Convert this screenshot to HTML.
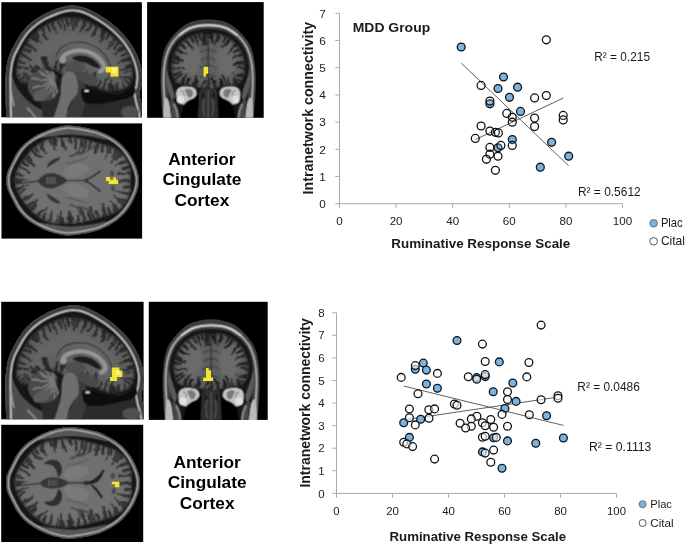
<!DOCTYPE html>
<html><head><meta charset="utf-8"><title>Figure</title>
<style>html,body{margin:0;padding:0;background:#fff;}svg{display:block}</style></head>
<body><svg width="685" height="545" viewBox="0 0 685 545">
<rect width="685" height="545" fill="#fff"/>
<defs>
<filter id="b05" x="-5%" y="-5%" width="110%" height="110%"><feGaussianBlur stdDeviation="0.55"/></filter>
<filter id="b07" x="-5%" y="-5%" width="110%" height="110%"><feConvolveMatrix order="3" kernelMatrix="1 3 1 3 9 3 1 3 1" divisor="25" edgeMode="duplicate" preserveAlpha="true"/></filter>
<filter id="b1" x="-10%" y="-10%" width="120%" height="120%"><feGaussianBlur stdDeviation="1"/></filter>
<filter id="b2" x="-20%" y="-20%" width="140%" height="140%"><feGaussianBlur stdDeviation="2"/></filter>
<filter id="b3" x="-30%" y="-30%" width="160%" height="160%"><feGaussianBlur stdDeviation="3"/></filter>
<filter id="wob" x="-10%" y="-10%" width="120%" height="120%"><feTurbulence type="fractalNoise" baseFrequency="0.09" numOctaves="2" seed="7" result="n"/><feDisplacementMap in="SourceGraphic" in2="n" scale="7" xChannelSelector="R" yChannelSelector="G"/></filter>
</defs>
<g transform="">
<clipPath id="s1box"><rect x="1.3" y="2.2" width="140.6" height="115.1"/></clipPath>
<clipPath id="s1head"><path d="M6.5 140.0C-5.0 134.7 6.3 124.0 6.2 118.0C6.1 112.0 5.9 108.7 5.8 104.0C5.7 99.3 5.6 94.5 5.6 90.0C5.6 85.5 5.4 81.2 5.6 77.0C5.8 72.8 6.3 68.2 6.9 64.5C7.5 60.8 8.4 57.9 9.4 55.0C10.4 52.1 11.6 50.0 13.2 47.0C14.8 44.0 16.8 40.1 18.8 37.0C20.8 33.9 22.6 31.2 25.1 28.5C27.6 25.8 30.8 23.0 33.9 20.6C37.0 18.2 40.1 16.3 43.9 14.3C47.7 12.3 53.0 10.1 56.5 8.8C60.0 7.5 62.4 6.8 65.0 6.3C67.6 5.8 69.5 5.6 72.0 5.6C74.5 5.6 77.3 5.8 80.0 6.4C82.7 7.0 85.0 7.7 88.0 9.0C91.0 10.3 94.0 11.8 97.7 14.0C101.4 16.2 106.4 19.3 110.2 22.2C114.0 25.1 117.3 28.1 120.6 31.4C123.9 34.7 127.2 38.4 129.8 42.2C132.5 46.0 134.7 50.0 136.5 54.0C138.3 58.0 139.8 62.3 140.7 66.0C141.6 69.7 142.1 72.7 142.2 76.0C142.3 79.3 141.8 83.1 141.4 86.0C141.0 88.9 139.5 90.6 139.5 93.4C139.5 96.2 140.5 99.5 141.2 102.6C141.9 105.6 143.2 108.0 143.8 111.7C144.4 115.4 144.5 120.3 145.0 125.0C145.5 129.7 158.7 135.8 147.0 140.0C135.3 144.2 98.4 150.0 75.0 150.0C51.6 150.0 18.0 145.3 6.5 140.0Z"/></clipPath>
<rect x="1.3" y="2.2" width="140.6" height="115.1" fill="#000"/>
<g clip-path="url(#s1box)"><g filter="url(#b07)">
<path d="M6.5 140.0C-5.0 134.7 6.3 124.0 6.2 118.0C6.1 112.0 5.9 108.7 5.8 104.0C5.7 99.3 5.6 94.5 5.6 90.0C5.6 85.5 5.4 81.2 5.6 77.0C5.8 72.8 6.3 68.2 6.9 64.5C7.5 60.8 8.4 57.9 9.4 55.0C10.4 52.1 11.6 50.0 13.2 47.0C14.8 44.0 16.8 40.1 18.8 37.0C20.8 33.9 22.6 31.2 25.1 28.5C27.6 25.8 30.8 23.0 33.9 20.6C37.0 18.2 40.1 16.3 43.9 14.3C47.7 12.3 53.0 10.1 56.5 8.8C60.0 7.5 62.4 6.8 65.0 6.3C67.6 5.8 69.5 5.6 72.0 5.6C74.5 5.6 77.3 5.8 80.0 6.4C82.7 7.0 85.0 7.7 88.0 9.0C91.0 10.3 94.0 11.8 97.7 14.0C101.4 16.2 106.4 19.3 110.2 22.2C114.0 25.1 117.3 28.1 120.6 31.4C123.9 34.7 127.2 38.4 129.8 42.2C132.5 46.0 134.7 50.0 136.5 54.0C138.3 58.0 139.8 62.3 140.7 66.0C141.6 69.7 142.1 72.7 142.2 76.0C142.3 79.3 141.8 83.1 141.4 86.0C141.0 88.9 139.5 90.6 139.5 93.4C139.5 96.2 140.5 99.5 141.2 102.6C141.9 105.6 143.2 108.0 143.8 111.7C144.4 115.4 144.5 120.3 145.0 125.0C145.5 129.7 158.7 135.8 147.0 140.0C135.3 144.2 98.4 150.0 75.0 150.0C51.6 150.0 18.0 145.3 6.5 140.0Z" fill="#161616"/>
<g clip-path="url(#s1head)">
<path d="M6.0 70.0C8.1 71.2 10.4 73.7 12.5 77.0C14.6 80.3 16.0 86.1 18.5 90.0C21.0 93.9 24.2 97.5 27.5 100.5C30.8 103.5 34.7 106.0 38.0 108.0C41.3 110.0 44.3 109.7 47.5 112.5C50.7 115.3 64.9 122.9 57.0 125.0C49.1 127.1 9.5 134.2 0.0 125.0C-9.5 115.8 -1.0 79.2 0.0 70.0C1.0 60.8 3.9 68.8 6.0 70.0Z" fill="#4e4e4e" stroke="none" stroke-width="1" />
<path d="M78.0 98.0C82.2 93.2 88.8 96.8 95.0 96.0C101.2 95.2 108.8 93.7 115.0 93.0C121.2 92.3 126.8 90.8 132.0 92.0C137.2 93.2 143.7 94.5 146.0 100.0C148.3 105.5 158.7 120.8 146.0 125.0C133.3 129.2 81.3 129.5 70.0 125.0C58.7 120.5 73.8 102.8 78.0 98.0Z" fill="#2c2c2c" stroke="none" stroke-width="1" />
<path d="M6.5 140.0C-5.0 134.7 6.3 124.0 6.2 118.0C6.1 112.0 5.9 108.7 5.8 104.0C5.7 99.3 5.6 94.5 5.6 90.0C5.6 85.5 5.4 81.2 5.6 77.0C5.8 72.8 6.3 68.2 6.9 64.5C7.5 60.8 8.4 57.9 9.4 55.0C10.4 52.1 11.6 50.0 13.2 47.0C14.8 44.0 16.8 40.1 18.8 37.0C20.8 33.9 22.6 31.2 25.1 28.5C27.6 25.8 30.8 23.0 33.9 20.6C37.0 18.2 40.1 16.3 43.9 14.3C47.7 12.3 53.0 10.1 56.5 8.8C60.0 7.5 62.4 6.8 65.0 6.3C67.6 5.8 69.5 5.6 72.0 5.6C74.5 5.6 77.3 5.8 80.0 6.4C82.7 7.0 85.0 7.7 88.0 9.0C91.0 10.3 94.0 11.8 97.7 14.0C101.4 16.2 106.4 19.3 110.2 22.2C114.0 25.1 117.3 28.1 120.6 31.4C123.9 34.7 127.2 38.4 129.8 42.2C132.5 46.0 134.7 50.0 136.5 54.0C138.3 58.0 139.8 62.3 140.7 66.0C141.6 69.7 142.1 72.7 142.2 76.0C142.3 79.3 141.8 83.1 141.4 86.0C141.0 88.9 139.5 90.6 139.5 93.4C139.5 96.2 140.5 99.5 141.2 102.6C141.9 105.6 143.2 108.0 143.8 111.7C144.4 115.4 144.5 120.3 145.0 125.0C145.5 129.7 158.7 135.8 147.0 140.0C135.3 144.2 98.4 150.0 75.0 150.0C51.6 150.0 18.0 145.3 6.5 140.0Z" fill="none" stroke="#c4c4c4" stroke-width="11.4"/>
<path d="M6.5 140.0C-5.0 134.7 6.3 124.0 6.2 118.0C6.1 112.0 5.9 108.7 5.8 104.0C5.7 99.3 5.6 94.5 5.6 90.0C5.6 85.5 5.4 81.2 5.6 77.0C5.8 72.8 6.3 68.2 6.9 64.5C7.5 60.8 8.4 57.9 9.4 55.0C10.4 52.1 11.6 50.0 13.2 47.0C14.8 44.0 16.8 40.1 18.8 37.0C20.8 33.9 22.6 31.2 25.1 28.5C27.6 25.8 30.8 23.0 33.9 20.6C37.0 18.2 40.1 16.3 43.9 14.3C47.7 12.3 53.0 10.1 56.5 8.8C60.0 7.5 62.4 6.8 65.0 6.3C67.6 5.8 69.5 5.6 72.0 5.6C74.5 5.6 77.3 5.8 80.0 6.4C82.7 7.0 85.0 7.7 88.0 9.0C91.0 10.3 94.0 11.8 97.7 14.0C101.4 16.2 106.4 19.3 110.2 22.2C114.0 25.1 117.3 28.1 120.6 31.4C123.9 34.7 127.2 38.4 129.8 42.2C132.5 46.0 134.7 50.0 136.5 54.0C138.3 58.0 139.8 62.3 140.7 66.0C141.6 69.7 142.1 72.7 142.2 76.0C142.3 79.3 141.8 83.1 141.4 86.0C141.0 88.9 139.5 90.6 139.5 93.4C139.5 96.2 140.5 99.5 141.2 102.6C141.9 105.6 143.2 108.0 143.8 111.7C144.4 115.4 144.5 120.3 145.0 125.0C145.5 129.7 158.7 135.8 147.0 140.0C135.3 144.2 98.4 150.0 75.0 150.0C51.6 150.0 18.0 145.3 6.5 140.0Z" fill="none" stroke="#3b3b3b" stroke-width="8"/>
</g>
<clipPath id="s1cer"><path d="M16.2 68.0C16.4 64.8 17.5 61.1 18.5 58.0C19.5 54.9 20.9 52.3 22.4 49.5C23.8 46.7 25.5 43.8 27.2 41.3C28.9 38.8 30.5 36.7 32.6 34.6C34.7 32.5 37.1 30.5 39.8 28.6C42.5 26.7 45.4 24.8 48.6 23.2C51.8 21.6 56.1 20.0 59.0 19.0C61.9 18.0 63.7 17.6 66.0 17.3C68.3 17.0 69.8 16.9 73.0 17.3C76.2 17.8 81.3 18.7 85.1 20.0C88.9 21.3 91.6 23.0 95.6 25.2C99.6 27.4 104.8 30.2 108.9 33.0C113.0 35.8 116.8 39.0 120.0 42.2C123.2 45.4 126.2 48.7 128.2 52.2C130.2 55.7 131.4 59.5 132.2 63.0C133.0 66.5 133.4 70.0 133.2 73.2C133.0 76.4 132.2 79.9 131.0 82.4C129.8 84.9 128.2 86.8 126.0 88.2C123.8 89.6 120.5 90.1 117.5 90.6C114.5 91.1 111.3 91.7 108.3 91.4C105.2 91.1 101.9 90.1 99.2 89.0C96.5 87.9 94.5 86.2 92.0 85.0C89.5 83.8 86.7 83.2 84.0 82.0C81.3 80.8 79.0 79.0 76.0 78.0C73.0 77.0 69.0 77.0 66.0 76.0C63.0 75.0 60.7 73.2 58.0 72.0C55.3 70.8 52.3 69.3 50.0 69.0C47.7 68.7 46.2 68.8 44.0 70.0C41.8 71.2 39.3 74.0 37.0 76.0C34.7 78.0 32.5 80.8 30.0 82.0C27.5 83.2 24.2 83.8 22.0 83.0C19.8 82.2 18.0 79.5 17.0 77.0C16.0 74.5 15.9 71.2 16.2 68.0Z"/></clipPath>
<path d="M16.2 68.0C16.4 64.8 17.5 61.1 18.5 58.0C19.5 54.9 20.9 52.3 22.4 49.5C23.8 46.7 25.5 43.8 27.2 41.3C28.9 38.8 30.5 36.7 32.6 34.6C34.7 32.5 37.1 30.5 39.8 28.6C42.5 26.7 45.4 24.8 48.6 23.2C51.8 21.6 56.1 20.0 59.0 19.0C61.9 18.0 63.7 17.6 66.0 17.3C68.3 17.0 69.8 16.9 73.0 17.3C76.2 17.8 81.3 18.7 85.1 20.0C88.9 21.3 91.6 23.0 95.6 25.2C99.6 27.4 104.8 30.2 108.9 33.0C113.0 35.8 116.8 39.0 120.0 42.2C123.2 45.4 126.2 48.7 128.2 52.2C130.2 55.7 131.4 59.5 132.2 63.0C133.0 66.5 133.4 70.0 133.2 73.2C133.0 76.4 132.2 79.9 131.0 82.4C129.8 84.9 128.2 86.8 126.0 88.2C123.8 89.6 120.5 90.1 117.5 90.6C114.5 91.1 111.3 91.7 108.3 91.4C105.2 91.1 101.9 90.1 99.2 89.0C96.5 87.9 94.5 86.2 92.0 85.0C89.5 83.8 86.7 83.2 84.0 82.0C81.3 80.8 79.0 79.0 76.0 78.0C73.0 77.0 69.0 77.0 66.0 76.0C63.0 75.0 60.7 73.2 58.0 72.0C55.3 70.8 52.3 69.3 50.0 69.0C47.7 68.7 46.2 68.8 44.0 70.0C41.8 71.2 39.3 74.0 37.0 76.0C34.7 78.0 32.5 80.8 30.0 82.0C27.5 83.2 24.2 83.8 22.0 83.0C19.8 82.2 18.0 79.5 17.0 77.0C16.0 74.5 15.9 71.2 16.2 68.0Z" fill="#5e5e5e"/>
<g clip-path="url(#s1cer)">
<path d="M30.0 62.0C29.3 58.3 33.0 52.0 36.0 48.0C39.0 44.0 43.7 40.7 48.0 38.0C52.3 35.3 57.0 33.0 62.0 32.0C67.0 31.0 72.7 31.0 78.0 32.0C83.3 33.0 89.0 35.3 94.0 38.0C99.0 40.7 104.3 44.3 108.0 48.0C111.7 51.7 114.3 55.7 116.0 60.0C117.7 64.3 119.3 70.7 118.0 74.0C116.7 77.3 111.7 80.3 108.0 80.0C104.3 79.7 100.7 76.7 96.0 72.0C91.3 67.3 85.7 55.7 80.0 52.0C74.3 48.3 67.0 48.7 62.0 50.0C57.0 51.3 53.7 56.7 50.0 60.0C46.3 63.3 43.3 69.7 40.0 70.0C36.7 70.3 30.7 65.7 30.0 62.0Z" fill="#656565" stroke="none" stroke-width="1" filter="url(#b2)"/>
<path d="M16.2 68.0C16.4 64.8 17.5 61.1 18.5 58.0C19.5 54.9 20.9 52.3 22.4 49.5C23.8 46.7 25.5 43.8 27.2 41.3C28.9 38.8 30.5 36.7 32.6 34.6C34.7 32.5 37.1 30.5 39.8 28.6C42.5 26.7 45.4 24.8 48.6 23.2C51.8 21.6 56.1 20.0 59.0 19.0C61.9 18.0 63.7 17.6 66.0 17.3C68.3 17.0 69.8 16.9 73.0 17.3C76.2 17.8 81.3 18.7 85.1 20.0C88.9 21.3 91.6 23.0 95.6 25.2C99.6 27.4 104.8 30.2 108.9 33.0C113.0 35.8 116.8 39.0 120.0 42.2C123.2 45.4 126.2 48.7 128.2 52.2C130.2 55.7 131.4 59.5 132.2 63.0C133.0 66.5 133.4 70.0 133.2 73.2C133.0 76.4 132.2 79.9 131.0 82.4C129.8 84.9 128.2 86.8 126.0 88.2C123.8 89.6 120.5 90.1 117.5 90.6C114.5 91.1 111.3 91.7 108.3 91.4C105.2 91.1 101.9 90.1 99.2 89.0C96.5 87.9 94.5 86.2 92.0 85.0C89.5 83.8 86.7 83.2 84.0 82.0C81.3 80.8 79.0 79.0 76.0 78.0C73.0 77.0 69.0 77.0 66.0 76.0C63.0 75.0 60.7 73.2 58.0 72.0C55.3 70.8 52.3 69.3 50.0 69.0C47.7 68.7 46.2 68.8 44.0 70.0C41.8 71.2 39.3 74.0 37.0 76.0C34.7 78.0 32.5 80.8 30.0 82.0C27.5 83.2 24.2 83.8 22.0 83.0C19.8 82.2 18.0 79.5 17.0 77.0C16.0 74.5 15.9 71.2 16.2 68.0Z" fill="none" stroke="#505050" stroke-width="6"/>
<g filter="url(#wob)">
<path d="M16.2 68.0C16.4 64.8 17.5 61.1 18.5 58.0C19.5 54.9 20.9 52.3 22.4 49.5C23.8 46.7 25.5 43.8 27.2 41.3C28.9 38.8 30.5 36.7 32.6 34.6C34.7 32.5 37.1 30.5 39.8 28.6C42.5 26.7 45.4 24.8 48.6 23.2C51.8 21.6 56.1 20.0 59.0 19.0C61.9 18.0 63.7 17.6 66.0 17.3C68.3 17.0 69.8 16.9 73.0 17.3C76.2 17.8 81.3 18.7 85.1 20.0C88.9 21.3 91.6 23.0 95.6 25.2C99.6 27.4 104.8 30.2 108.9 33.0C113.0 35.8 116.8 39.0 120.0 42.2C123.2 45.4 126.2 48.7 128.2 52.2C130.2 55.7 131.4 59.5 132.2 63.0C133.0 66.5 133.4 70.0 133.2 73.2C133.0 76.4 132.2 79.9 131.0 82.4C129.8 84.9 128.2 86.8 126.0 88.2C123.8 89.6 120.5 90.1 117.5 90.6C114.5 91.1 111.3 91.7 108.3 91.4C105.2 91.1 101.9 90.1 99.2 89.0C96.5 87.9 94.5 86.2 92.0 85.0C89.5 83.8 86.7 83.2 84.0 82.0C81.3 80.8 79.0 79.0 76.0 78.0C73.0 77.0 69.0 77.0 66.0 76.0C63.0 75.0 60.7 73.2 58.0 72.0C55.3 70.8 52.3 69.3 50.0 69.0C47.7 68.7 46.2 68.8 44.0 70.0C41.8 71.2 39.3 74.0 37.0 76.0C34.7 78.0 32.5 80.8 30.0 82.0C27.5 83.2 24.2 83.8 22.0 83.0C19.8 82.2 18.0 79.5 17.0 77.0C16.0 74.5 15.9 71.2 16.2 68.0Z" fill="none" stroke="#262626" stroke-width="17" stroke-dasharray="2.5 4.1 2.2 5.9 2.7 3.0" stroke-dashoffset="1"/>
<path d="M16.2 68.0C16.4 64.8 17.5 61.1 18.5 58.0C19.5 54.9 20.9 52.3 22.4 49.5C23.8 46.7 25.5 43.8 27.2 41.3C28.9 38.8 30.5 36.7 32.6 34.6C34.7 32.5 37.1 30.5 39.8 28.6C42.5 26.7 45.4 24.8 48.6 23.2C51.8 21.6 56.1 20.0 59.0 19.0C61.9 18.0 63.7 17.6 66.0 17.3C68.3 17.0 69.8 16.9 73.0 17.3C76.2 17.8 81.3 18.7 85.1 20.0C88.9 21.3 91.6 23.0 95.6 25.2C99.6 27.4 104.8 30.2 108.9 33.0C113.0 35.8 116.8 39.0 120.0 42.2C123.2 45.4 126.2 48.7 128.2 52.2C130.2 55.7 131.4 59.5 132.2 63.0C133.0 66.5 133.4 70.0 133.2 73.2C133.0 76.4 132.2 79.9 131.0 82.4C129.8 84.9 128.2 86.8 126.0 88.2C123.8 89.6 120.5 90.1 117.5 90.6C114.5 91.1 111.3 91.7 108.3 91.4C105.2 91.1 101.9 90.1 99.2 89.0C96.5 87.9 94.5 86.2 92.0 85.0C89.5 83.8 86.7 83.2 84.0 82.0C81.3 80.8 79.0 79.0 76.0 78.0C73.0 77.0 69.0 77.0 66.0 76.0C63.0 75.0 60.7 73.2 58.0 72.0C55.3 70.8 52.3 69.3 50.0 69.0C47.7 68.7 46.2 68.8 44.0 70.0C41.8 71.2 39.3 74.0 37.0 76.0C34.7 78.0 32.5 80.8 30.0 82.0C27.5 83.2 24.2 83.8 22.0 83.0C19.8 82.2 18.0 79.5 17.0 77.0C16.0 74.5 15.9 71.2 16.2 68.0Z" fill="none" stroke="#2a2a2a" stroke-width="26" stroke-dasharray="2.4 11.0 2.5 7.6"/>
</g>
<path d="M16.2 68.0C16.4 64.8 17.5 61.1 18.5 58.0C19.5 54.9 20.9 52.3 22.4 49.5C23.8 46.7 25.5 43.8 27.2 41.3C28.9 38.8 30.5 36.7 32.6 34.6C34.7 32.5 37.1 30.5 39.8 28.6C42.5 26.7 45.4 24.8 48.6 23.2C51.8 21.6 56.1 20.0 59.0 19.0C61.9 18.0 63.7 17.6 66.0 17.3C68.3 17.0 69.8 16.9 73.0 17.3C76.2 17.8 81.3 18.7 85.1 20.0C88.9 21.3 91.6 23.0 95.6 25.2C99.6 27.4 104.8 30.2 108.9 33.0C113.0 35.8 116.8 39.0 120.0 42.2C123.2 45.4 126.2 48.7 128.2 52.2C130.2 55.7 131.4 59.5 132.2 63.0C133.0 66.5 133.4 70.0 133.2 73.2C133.0 76.4 132.2 79.9 131.0 82.4C129.8 84.9 128.2 86.8 126.0 88.2C123.8 89.6 120.5 90.1 117.5 90.6C114.5 91.1 111.3 91.7 108.3 91.4C105.2 91.1 101.9 90.1 99.2 89.0C96.5 87.9 94.5 86.2 92.0 85.0C89.5 83.8 86.7 83.2 84.0 82.0C81.3 80.8 79.0 79.0 76.0 78.0C73.0 77.0 69.0 77.0 66.0 76.0C63.0 75.0 60.7 73.2 58.0 72.0C55.3 70.8 52.3 69.3 50.0 69.0C47.7 68.7 46.2 68.8 44.0 70.0C41.8 71.2 39.3 74.0 37.0 76.0C34.7 78.0 32.5 80.8 30.0 82.0C27.5 83.2 24.2 83.8 22.0 83.0C19.8 82.2 18.0 79.5 17.0 77.0C16.0 74.5 15.9 71.2 16.2 68.0Z" fill="none" stroke="#262626" stroke-width="1.6"/>
<path d="M56.0 56.0C57.0 54.5 59.0 49.2 62.0 47.0C65.0 44.8 69.7 43.1 74.0 42.5C78.3 41.9 83.7 42.2 88.0 43.5C92.3 44.8 96.7 47.2 100.0 50.0C103.3 52.8 106.2 56.7 108.0 60.0C109.8 63.3 111.0 66.7 111.0 70.0C111.0 73.3 108.5 78.3 108.0 80.0" fill="none" stroke="#363636" stroke-width="1.2" />
</g>
<ellipse cx="75" cy="67" rx="10" ry="6.5" fill="#505050"/>
<path d="M66.0 70.0C67.3 68.7 74.0 71.3 78.0 72.0C82.0 72.7 86.7 72.7 90.0 74.0C93.3 75.3 97.7 78.0 98.0 80.0C98.3 82.0 95.0 85.7 92.0 86.0C89.0 86.3 83.7 83.0 80.0 82.0C76.3 81.0 72.3 82.0 70.0 80.0C67.7 78.0 64.7 71.3 66.0 70.0Z" fill="#4a4a4a" stroke="none" stroke-width="1" />
<path d="M72.0 58.0C72.3 57.1 77.0 55.6 80.0 55.5C83.0 55.4 87.2 56.3 90.0 57.5C92.8 58.7 95.3 60.8 97.0 62.5C98.7 64.2 100.5 67.2 100.0 68.0C99.5 68.8 96.3 67.8 94.0 67.0C91.7 66.2 88.7 64.0 86.0 63.0C83.3 62.0 80.3 61.8 78.0 61.0C75.7 60.2 71.7 58.9 72.0 58.0Z" fill="#1d1d1d" stroke="none" stroke-width="1" />
<path d="M62.3 61.5C62.4 60.7 61.9 58.0 63.0 56.5C64.1 55.0 66.1 53.6 69.0 52.6C71.9 51.6 76.6 50.4 80.5 50.6C84.4 50.8 89.1 52.0 92.5 53.6C95.9 55.2 99.0 58.1 101.0 60.5C103.0 62.9 104.4 66.2 104.2 68.0C104.0 69.8 100.7 70.9 100.0 71.5" fill="none" stroke="#969696" stroke-width="4.0" stroke-linecap="round"/>
<circle cx="62.8" cy="60" r="3.3" fill="#969696"/>
<path d="M15.5 62.0C15.3 64.3 13.5 71.6 14.2 76.0C14.9 80.4 17.1 84.8 19.5 88.5C21.9 92.2 25.2 95.7 28.5 98.5C31.8 101.3 35.4 103.6 39.0 105.5C42.6 107.4 46.8 107.9 50.0 110.0C53.2 112.1 56.7 116.7 58.0 118.0" fill="none" stroke="#171717" stroke-width="3.4" />
<path d="M40.0 100.0C41.3 98.3 46.7 98.7 50.0 98.0C53.3 97.3 58.3 92.3 60.0 96.0C61.7 99.7 62.7 116.0 60.0 120.0C57.3 124.0 47.0 122.0 44.0 120.0C41.0 118.0 42.7 111.3 42.0 108.0C41.3 104.7 38.7 101.7 40.0 100.0Z" fill="#2b2b2b" stroke="none" stroke-width="1" />
<clipPath id="s1cb"><ellipse cx="44.0" cy="85.4" rx="16.2" ry="15.8"/></clipPath>
<ellipse cx="44.0" cy="85.4" rx="16.2" ry="15.8" fill="#484848"/>
<g clip-path="url(#s1cb)" stroke="#7a7a7a" stroke-width="2.1" fill="none" stroke-linecap="round" filter="url(#wob)">
<path d="M54.5 82L32.8 78.2"/>
<path d="M54.5 82L33.2 87.7"/>
<path d="M54.5 82L38.1 93.5"/>
<path d="M54.5 82L45.5 96.4"/>
<path d="M54.5 82L52.6 95.9"/>
<path d="M54.5 82L57.9 91.4"/>
<path d="M54.5 82L37.5 71.4"/>
<path d="M54.5 82L44.0 68.6"/>
<path d="M54.5 82L50.2 68.7"/>
</g>
<ellipse cx="41.5" cy="95" rx="9" ry="5.4" fill="#5c5c5c" transform="rotate(-24 41.5 95)"/>
<path d="M57.0 76.0C57.7 75.7 59.7 79.7 60.0 82.0C60.3 84.3 59.7 89.7 59.0 90.0C58.3 90.3 56.3 86.3 56.0 84.0C55.7 81.7 56.3 76.3 57.0 76.0Z" fill="#1c1c1c" stroke="none" stroke-width="1" />
<path d="M74.0 80.0C76.0 77.3 82.0 81.3 84.0 84.0C86.0 86.7 86.7 90.3 86.0 96.0C85.3 101.7 83.3 114.3 80.0 118.0C76.7 121.7 67.3 121.0 66.0 118.0C64.7 115.0 70.7 106.3 72.0 100.0C73.3 93.7 72.0 82.7 74.0 80.0Z" fill="#3a3a3a" stroke="none" stroke-width="1" />
<path d="M66.0 72.0C67.8 71.1 71.2 71.5 73.0 72.5C74.8 73.5 75.7 75.8 76.5 78.0C77.3 80.2 77.9 83.3 78.0 86.0C78.1 88.7 78.0 91.7 77.0 94.0C76.0 96.3 73.5 97.7 72.0 100.0C70.5 102.3 69.2 104.7 68.0 108.0C66.8 111.3 66.8 118.0 64.5 120.0C62.2 122.0 55.2 122.0 54.0 120.0C52.8 118.0 56.0 111.7 57.0 108.0C58.0 104.3 59.3 101.3 60.0 98.0C60.7 94.7 60.7 91.3 61.0 88.0C61.3 84.7 61.2 80.7 62.0 78.0C62.8 75.3 64.2 72.9 66.0 72.0Z" fill="#6e6e6e" stroke="none" stroke-width="1" />
<path d="M82.0 89.0C83.7 87.9 88.3 89.8 92.0 90.5C95.7 91.2 100.0 92.5 104.0 93.0C108.0 93.5 112.3 94.0 116.0 93.8C119.7 93.5 123.1 92.7 126.0 91.5C128.9 90.3 131.9 86.4 133.5 86.5C135.1 86.6 136.1 90.2 135.5 92.0C134.9 93.8 132.9 96.1 130.0 97.5C127.1 98.9 123.0 99.4 118.0 100.5C113.0 101.6 105.3 103.6 100.0 104.0C94.7 104.4 89.0 104.2 86.0 103.0C83.0 101.8 82.7 99.3 82.0 97.0C81.3 94.7 80.3 90.1 82.0 89.0Z" fill="#0a0a0a" stroke="none" stroke-width="1" />
<rect x="84.3" y="89.8" width="4.6" height="2.2" rx="1" fill="#d0d0d0"/>
<ellipse cx="130" cy="112" rx="9" ry="6" fill="#505050"/>
<path d="M11.0 90.0C11.2 91.3 11.5 95.3 12.0 98.0C12.5 100.7 13.7 104.7 14.0 106.0" fill="none" stroke="#9a9a9a" stroke-width="1.6" />
<path d="M27.0 108.0C27.8 108.8 30.5 111.3 32.0 113.0C33.5 114.7 35.3 117.2 36.0 118.0" fill="none" stroke="#8a8a8a" stroke-width="1.8" />
</g></g></g>
<path d="M105.8 66.8H118.4V76.5H110.4V72.4H105.8Z" fill="#f3e62e"/><rect x="112.3" y="68.2" width="4" height="5" fill="#fbf39a" filter="url(#b05)"/>
<g transform="">
<clipPath id="c1box"><rect x="147.1" y="2.1" width="116.6" height="115.7"/></clipPath>
<clipPath id="c1head"><path d="M163.9 140.0C156.3 134.3 163.0 122.5 162.6 116.0C162.2 109.5 161.6 105.7 161.3 101.0C161.0 96.3 160.7 92.3 160.6 88.0C160.5 83.7 160.4 79.2 160.6 75.0C160.8 70.8 161.0 66.8 161.6 62.8C162.2 58.8 162.8 54.5 163.9 51.0C165.0 47.5 166.2 44.8 168.4 41.5C170.6 38.2 173.7 34.4 176.8 31.4C179.9 28.4 183.6 25.5 187.0 23.7C190.4 21.9 193.5 21.1 197.0 20.3C200.5 19.6 204.5 19.2 208.2 19.2C211.9 19.2 215.9 19.6 219.4 20.3C222.9 21.1 226.0 21.9 229.4 23.7C232.8 25.5 236.5 28.4 239.6 31.4C242.7 34.4 245.8 38.2 248.0 41.5C250.1 44.8 251.4 47.5 252.5 51.0C253.6 54.5 254.2 58.8 254.8 62.8C255.3 66.8 255.6 70.8 255.8 75.0C256.0 79.2 255.9 83.7 255.8 88.0C255.7 92.3 255.4 96.3 255.1 101.0C254.8 105.7 254.2 109.5 253.8 116.0C253.4 122.5 260.1 134.3 252.5 140.0C244.9 145.7 223.0 150.0 208.2 150.0C193.4 150.0 171.5 145.7 163.9 140.0Z"/></clipPath>
<rect x="147.1" y="2.1" width="116.6" height="115.7" fill="#000"/>
<g clip-path="url(#c1box)"><g filter="url(#b07)">
<path d="M163.9 140.0C156.3 134.3 163.0 122.5 162.6 116.0C162.2 109.5 161.6 105.7 161.3 101.0C161.0 96.3 160.7 92.3 160.6 88.0C160.5 83.7 160.4 79.2 160.6 75.0C160.8 70.8 161.0 66.8 161.6 62.8C162.2 58.8 162.8 54.5 163.9 51.0C165.0 47.5 166.2 44.8 168.4 41.5C170.6 38.2 173.7 34.4 176.8 31.4C179.9 28.4 183.6 25.5 187.0 23.7C190.4 21.9 193.5 21.1 197.0 20.3C200.5 19.6 204.5 19.2 208.2 19.2C211.9 19.2 215.9 19.6 219.4 20.3C222.9 21.1 226.0 21.9 229.4 23.7C232.8 25.5 236.5 28.4 239.6 31.4C242.7 34.4 245.8 38.2 248.0 41.5C250.1 44.8 251.4 47.5 252.5 51.0C253.6 54.5 254.2 58.8 254.8 62.8C255.3 66.8 255.6 70.8 255.8 75.0C256.0 79.2 255.9 83.7 255.8 88.0C255.7 92.3 255.4 96.3 255.1 101.0C254.8 105.7 254.2 109.5 253.8 116.0C253.4 122.5 260.1 134.3 252.5 140.0C244.9 145.7 223.0 150.0 208.2 150.0C193.4 150.0 171.5 145.7 163.9 140.0Z" fill="#3d3d3d"/>
<path d="M168.5 140.0C161.9 133.3 168.5 117.5 168.5 110.0C168.5 102.5 168.5 100.0 168.3 95.0C168.2 90.0 167.7 84.8 167.6 80.0C167.5 75.2 167.3 70.2 167.6 66.0C167.9 61.8 168.5 58.3 169.5 55.0C170.5 51.7 171.6 48.9 173.5 46.0C175.4 43.1 178.2 39.8 181.0 37.5C183.8 35.2 187.0 33.3 190.0 32.0C193.0 30.7 196.0 30.1 199.0 29.6C202.0 29.1 205.1 28.8 208.2 28.8C211.3 28.8 214.4 29.1 217.4 29.6C220.4 30.1 223.4 30.7 226.4 32.0C229.4 33.3 232.6 35.2 235.4 37.5C238.1 39.8 241.0 43.1 242.9 46.0C244.8 48.9 245.9 51.7 246.9 55.0C247.9 58.3 248.5 61.8 248.8 66.0C249.1 70.2 248.9 75.2 248.8 80.0C248.7 84.8 248.2 90.0 248.1 95.0C247.9 100.0 247.9 102.5 247.9 110.0C247.9 117.5 254.5 133.3 247.9 140.0C241.3 146.7 221.4 150.0 208.2 150.0C195.0 150.0 175.1 146.7 168.5 140.0Z" fill="#141414" stroke="none" stroke-width="1" />
<path d="M165.0 125.0C164.9 122.5 164.7 115.0 164.6 110.0C164.5 105.0 164.4 99.7 164.2 95.0C164.0 90.3 163.6 86.7 163.6 82.0C163.6 77.3 163.8 71.2 164.3 66.7C164.8 62.2 165.4 58.7 166.6 55.0C167.8 51.3 169.1 47.8 171.2 44.5C173.3 41.2 176.0 37.9 179.0 35.2C182.0 32.6 185.8 30.2 189.0 28.6C192.2 27.1 194.8 26.5 198.0 25.9C201.2 25.3 204.8 25.2 208.2 25.2C211.6 25.2 215.2 25.3 218.4 25.9C221.6 26.5 224.2 27.1 227.4 28.6C230.6 30.2 234.4 32.6 237.4 35.2C240.4 37.9 243.1 41.2 245.2 44.5C247.3 47.8 248.6 51.3 249.8 55.0C250.9 58.7 251.6 62.2 252.1 66.7C252.6 71.2 252.8 77.3 252.8 82.0C252.8 86.7 252.4 90.3 252.2 95.0C252.0 99.7 251.9 105.0 251.8 110.0C251.7 115.0 251.5 122.5 251.4 125.0" fill="none" stroke="#b4b4b4" stroke-width="1.7" />
<path d="M179.0 35.2C180.7 34.1 185.8 30.2 189.0 28.6C192.2 27.1 194.8 26.5 198.0 25.9C201.2 25.3 204.8 25.2 208.2 25.2C211.6 25.2 215.2 25.3 218.4 25.9C221.6 26.5 224.2 27.1 227.4 28.6C230.6 30.2 235.7 34.1 237.4 35.2" fill="none" stroke="#d2d2d2" stroke-width="1.9" />
<path d="M166.5 70.0C167.0 69.3 168.0 75.0 169.0 78.0C170.0 81.0 171.6 85.0 172.5 88.0C173.4 91.0 174.6 94.0 174.5 96.0C174.4 98.0 173.0 100.7 172.0 100.0C171.0 99.3 169.5 95.0 168.5 92.0C167.5 89.0 166.3 85.7 166.0 82.0C165.7 78.3 166.0 70.7 166.5 70.0Z" fill="#5a5a5a" stroke="none" stroke-width="1" />
<path d="M165.0 98.0C165.7 96.7 167.2 98.3 168.0 100.0C168.8 101.7 169.5 103.8 170.0 108.0C170.5 112.2 172.0 122.2 171.0 125.0C170.0 127.8 165.2 127.8 164.0 125.0C162.8 122.2 163.4 112.5 163.6 108.0C163.8 103.5 164.3 99.3 165.0 98.0Z" fill="#b9b9b9" stroke="none" stroke-width="1" />
<path d="M170.5 100.0C171.1 98.8 173.8 101.3 175.0 103.0C176.2 104.7 177.3 106.3 178.0 110.0C178.7 113.7 180.0 122.5 179.0 125.0C178.0 127.5 173.2 127.5 172.0 125.0C170.8 122.5 171.8 114.2 171.5 110.0C171.2 105.8 169.9 101.2 170.5 100.0Z" fill="#4a4a4a" stroke="none" stroke-width="1" />
<path d="M174.0 104.0C174.5 105.3 176.3 109.0 177.0 112.0C177.7 115.0 177.8 120.3 178.0 122.0" fill="none" stroke="#9a9a9a" stroke-width="1.3" />
<path d="M249.9 70.0C249.4 69.3 248.4 75.0 247.4 78.0C246.4 81.0 244.8 85.0 243.9 88.0C243.0 91.0 241.8 94.0 241.9 96.0C242.0 98.0 243.4 100.7 244.4 100.0C245.4 99.3 246.9 95.0 247.9 92.0C248.9 89.0 250.1 85.7 250.4 82.0C250.7 78.3 250.4 70.7 249.9 70.0Z" fill="#5a5a5a" stroke="none" stroke-width="1" />
<path d="M251.4 98.0C250.7 96.7 249.2 98.3 248.4 100.0C247.6 101.7 246.9 103.8 246.4 108.0C245.9 112.2 244.4 122.2 245.4 125.0C246.4 127.8 251.2 127.8 252.4 125.0C253.6 122.2 253.0 112.5 252.8 108.0C252.6 103.5 252.1 99.3 251.4 98.0Z" fill="#b9b9b9" stroke="none" stroke-width="1" />
<path d="M245.9 100.0C245.3 98.8 242.6 101.3 241.4 103.0C240.1 104.7 239.1 106.3 238.4 110.0C237.7 113.7 236.4 122.5 237.4 125.0C238.4 127.5 243.1 127.5 244.4 125.0C245.6 122.5 244.6 114.2 244.9 110.0C245.1 105.8 246.5 101.2 245.9 100.0Z" fill="#4a4a4a" stroke="none" stroke-width="1" />
<path d="M242.4 104.0C241.9 105.3 240.1 109.0 239.4 112.0C238.7 115.0 238.6 120.3 238.4 122.0" fill="none" stroke="#9a9a9a" stroke-width="1.3" />
<rect x="180.2" y="88" width="56" height="40" fill="#171717"/>
<clipPath id="c1br"><path d="M207.2 90.5C205.9 90.1 203.5 88.9 201.2 88.2C198.9 87.5 196.0 86.8 193.2 86.3C190.4 85.8 186.9 85.5 184.2 85.0C181.5 84.5 179.0 84.2 177.2 83.0C175.4 81.8 174.1 80.2 173.2 78.0C172.3 75.8 171.8 73.0 171.6 70.0C171.4 67.0 171.5 63.2 172.2 60.0C172.9 56.8 174.0 53.5 175.6 50.5C177.2 47.5 179.4 44.4 181.9 42.0C184.4 39.6 187.6 37.5 190.7 36.0C193.8 34.5 198.0 33.5 200.7 33.2C203.4 33.0 205.6 34.3 207.0 34.5C208.4 34.7 207.9 34.7 209.4 34.5C210.8 34.3 213.0 33.0 215.7 33.2C218.4 33.5 222.6 34.5 225.7 36.0C228.8 37.5 232.0 39.6 234.5 42.0C237.0 44.4 239.2 47.5 240.8 50.5C242.4 53.5 243.5 56.8 244.2 60.0C244.9 63.2 245.0 67.0 244.8 70.0C244.6 73.0 244.1 75.8 243.2 78.0C242.3 80.2 241.0 81.8 239.2 83.0C237.4 84.2 234.9 84.5 232.2 85.0C229.5 85.5 226.0 85.8 223.2 86.3C220.4 86.8 217.5 87.5 215.2 88.2C212.9 88.9 210.5 90.1 209.2 90.5C207.9 90.9 208.5 90.9 207.2 90.5Z"/></clipPath>
<path d="M207.2 90.5C205.9 90.1 203.5 88.9 201.2 88.2C198.9 87.5 196.0 86.8 193.2 86.3C190.4 85.8 186.9 85.5 184.2 85.0C181.5 84.5 179.0 84.2 177.2 83.0C175.4 81.8 174.1 80.2 173.2 78.0C172.3 75.8 171.8 73.0 171.6 70.0C171.4 67.0 171.5 63.2 172.2 60.0C172.9 56.8 174.0 53.5 175.6 50.5C177.2 47.5 179.4 44.4 181.9 42.0C184.4 39.6 187.6 37.5 190.7 36.0C193.8 34.5 198.0 33.5 200.7 33.2C203.4 33.0 205.6 34.3 207.0 34.5C208.4 34.7 207.9 34.7 209.4 34.5C210.8 34.3 213.0 33.0 215.7 33.2C218.4 33.5 222.6 34.5 225.7 36.0C228.8 37.5 232.0 39.6 234.5 42.0C237.0 44.4 239.2 47.5 240.8 50.5C242.4 53.5 243.5 56.8 244.2 60.0C244.9 63.2 245.0 67.0 244.8 70.0C244.6 73.0 244.1 75.8 243.2 78.0C242.3 80.2 241.0 81.8 239.2 83.0C237.4 84.2 234.9 84.5 232.2 85.0C229.5 85.5 226.0 85.8 223.2 86.3C220.4 86.8 217.5 87.5 215.2 88.2C212.9 88.9 210.5 90.1 209.2 90.5C207.9 90.9 208.5 90.9 207.2 90.5Z" fill="#5e5e5e"/>
<g clip-path="url(#c1br)">
<ellipse cx="226.2" cy="60" rx="11" ry="17" fill="#6a6a6a" filter="url(#b2)"/>
<ellipse cx="190.2" cy="60" rx="11" ry="17" fill="#6a6a6a" filter="url(#b2)"/>
<path d="M207.2 90.5C205.9 90.1 203.5 88.9 201.2 88.2C198.9 87.5 196.0 86.8 193.2 86.3C190.4 85.8 186.9 85.5 184.2 85.0C181.5 84.5 179.0 84.2 177.2 83.0C175.4 81.8 174.1 80.2 173.2 78.0C172.3 75.8 171.8 73.0 171.6 70.0C171.4 67.0 171.5 63.2 172.2 60.0C172.9 56.8 174.0 53.5 175.6 50.5C177.2 47.5 179.4 44.4 181.9 42.0C184.4 39.6 187.6 37.5 190.7 36.0C193.8 34.5 198.0 33.5 200.7 33.2C203.4 33.0 205.6 34.3 207.0 34.5C208.4 34.7 207.9 34.7 209.4 34.5C210.8 34.3 213.0 33.0 215.7 33.2C218.4 33.5 222.6 34.5 225.7 36.0C228.8 37.5 232.0 39.6 234.5 42.0C237.0 44.4 239.2 47.5 240.8 50.5C242.4 53.5 243.5 56.8 244.2 60.0C244.9 63.2 245.0 67.0 244.8 70.0C244.6 73.0 244.1 75.8 243.2 78.0C242.3 80.2 241.0 81.8 239.2 83.0C237.4 84.2 234.9 84.5 232.2 85.0C229.5 85.5 226.0 85.8 223.2 86.3C220.4 86.8 217.5 87.5 215.2 88.2C212.9 88.9 210.5 90.1 209.2 90.5C207.9 90.9 208.5 90.9 207.2 90.5Z" fill="none" stroke="#525252" stroke-width="6"/>
<g filter="url(#wob)">
<path d="M207.2 90.5C205.9 90.1 203.5 88.9 201.2 88.2C198.9 87.5 196.0 86.8 193.2 86.3C190.4 85.8 186.9 85.5 184.2 85.0C181.5 84.5 179.0 84.2 177.2 83.0C175.4 81.8 174.1 80.2 173.2 78.0C172.3 75.8 171.8 73.0 171.6 70.0C171.4 67.0 171.5 63.2 172.2 60.0C172.9 56.8 174.0 53.5 175.6 50.5C177.2 47.5 179.4 44.4 181.9 42.0C184.4 39.6 187.6 37.5 190.7 36.0C193.8 34.5 198.0 33.5 200.7 33.2C203.4 33.0 205.6 34.3 207.0 34.5C208.4 34.7 207.9 34.7 209.4 34.5C210.8 34.3 213.0 33.0 215.7 33.2C218.4 33.5 222.6 34.5 225.7 36.0C228.8 37.5 232.0 39.6 234.5 42.0C237.0 44.4 239.2 47.5 240.8 50.5C242.4 53.5 243.5 56.8 244.2 60.0C244.9 63.2 245.0 67.0 244.8 70.0C244.6 73.0 244.1 75.8 243.2 78.0C242.3 80.2 241.0 81.8 239.2 83.0C237.4 84.2 234.9 84.5 232.2 85.0C229.5 85.5 226.0 85.8 223.2 86.3C220.4 86.8 217.5 87.5 215.2 88.2C212.9 88.9 210.5 90.1 209.2 90.5C207.9 90.9 208.5 90.9 207.2 90.5Z" fill="none" stroke="#1e1e1e" stroke-width="16" stroke-dasharray="2.5 4.1 2.2 5.9 2.7 3.0" stroke-dashoffset="2"/>
<path d="M207.2 90.5C205.9 90.1 203.5 88.9 201.2 88.2C198.9 87.5 196.0 86.8 193.2 86.3C190.4 85.8 186.9 85.5 184.2 85.0C181.5 84.5 179.0 84.2 177.2 83.0C175.4 81.8 174.1 80.2 173.2 78.0C172.3 75.8 171.8 73.0 171.6 70.0C171.4 67.0 171.5 63.2 172.2 60.0C172.9 56.8 174.0 53.5 175.6 50.5C177.2 47.5 179.4 44.4 181.9 42.0C184.4 39.6 187.6 37.5 190.7 36.0C193.8 34.5 198.0 33.5 200.7 33.2C203.4 33.0 205.6 34.3 207.0 34.5C208.4 34.7 207.9 34.7 209.4 34.5C210.8 34.3 213.0 33.0 215.7 33.2C218.4 33.5 222.6 34.5 225.7 36.0C228.8 37.5 232.0 39.6 234.5 42.0C237.0 44.4 239.2 47.5 240.8 50.5C242.4 53.5 243.5 56.8 244.2 60.0C244.9 63.2 245.0 67.0 244.8 70.0C244.6 73.0 244.1 75.8 243.2 78.0C242.3 80.2 241.0 81.8 239.2 83.0C237.4 84.2 234.9 84.5 232.2 85.0C229.5 85.5 226.0 85.8 223.2 86.3C220.4 86.8 217.5 87.5 215.2 88.2C212.9 88.9 210.5 90.1 209.2 90.5C207.9 90.9 208.5 90.9 207.2 90.5Z" fill="none" stroke="#242424" stroke-width="25" stroke-dasharray="2.4 10.0 2.5 7.6"/>
</g>
<path d="M207.2 90.5C205.9 90.1 203.5 88.9 201.2 88.2C198.9 87.5 196.0 86.8 193.2 86.3C190.4 85.8 186.9 85.5 184.2 85.0C181.5 84.5 179.0 84.2 177.2 83.0C175.4 81.8 174.1 80.2 173.2 78.0C172.3 75.8 171.8 73.0 171.6 70.0C171.4 67.0 171.5 63.2 172.2 60.0C172.9 56.8 174.0 53.5 175.6 50.5C177.2 47.5 179.4 44.4 181.9 42.0C184.4 39.6 187.6 37.5 190.7 36.0C193.8 34.5 198.0 33.5 200.7 33.2C203.4 33.0 205.6 34.3 207.0 34.5C208.4 34.7 207.9 34.7 209.4 34.5C210.8 34.3 213.0 33.0 215.7 33.2C218.4 33.5 222.6 34.5 225.7 36.0C228.8 37.5 232.0 39.6 234.5 42.0C237.0 44.4 239.2 47.5 240.8 50.5C242.4 53.5 243.5 56.8 244.2 60.0C244.9 63.2 245.0 67.0 244.8 70.0C244.6 73.0 244.1 75.8 243.2 78.0C242.3 80.2 241.0 81.8 239.2 83.0C237.4 84.2 234.9 84.5 232.2 85.0C229.5 85.5 226.0 85.8 223.2 86.3C220.4 86.8 217.5 87.5 215.2 88.2C212.9 88.9 210.5 90.1 209.2 90.5C207.9 90.9 208.5 90.9 207.2 90.5Z" fill="none" stroke="#2a2a2a" stroke-width="1.6"/>
<path d="M208.2 30V92" stroke="#303030" stroke-width="1.5"/>
<path d="M208.2 42q3.0 -1 6 2.5" stroke="#3c3c3c" stroke-width="1.1" fill="none"/>
<path d="M208.2 50q4.0 -1 8 2.5" stroke="#3c3c3c" stroke-width="1.1" fill="none"/>
<path d="M208.2 58q3.5 -1 7 2.5" stroke="#3c3c3c" stroke-width="1.1" fill="none"/>
<path d="M208.2 66q4.5 -1 9 2.5" stroke="#3c3c3c" stroke-width="1.1" fill="none"/>
<path d="M208.2 75q4.0 -1 8 2.5" stroke="#3c3c3c" stroke-width="1.1" fill="none"/>
<path d="M208.2 83q3.0 -1 6 2.5" stroke="#3c3c3c" stroke-width="1.1" fill="none"/>
<path d="M208.2 42q-3.0 -1 -6 2.5" stroke="#3c3c3c" stroke-width="1.1" fill="none"/>
<path d="M208.2 50q-4.0 -1 -8 2.5" stroke="#3c3c3c" stroke-width="1.1" fill="none"/>
<path d="M208.2 58q-3.5 -1 -7 2.5" stroke="#3c3c3c" stroke-width="1.1" fill="none"/>
<path d="M208.2 66q-4.5 -1 -9 2.5" stroke="#3c3c3c" stroke-width="1.1" fill="none"/>
<path d="M208.2 75q-4.0 -1 -8 2.5" stroke="#3c3c3c" stroke-width="1.1" fill="none"/>
<path d="M208.2 83q-3.0 -1 -6 2.5" stroke="#3c3c3c" stroke-width="1.1" fill="none"/>
</g>
<path d="M176.2 95.0C176.0 92.8 176.5 90.9 177.5 89.5C178.5 88.1 180.1 87.2 182.0 86.8C183.9 86.3 186.9 86.5 189.0 86.8C191.1 87.1 193.2 87.5 194.5 88.5C195.8 89.5 196.3 91.2 196.6 93.0C196.8 94.8 196.8 97.3 196.0 99.0C195.2 100.7 193.8 102.3 192.0 103.2C190.2 104.1 187.2 104.7 185.0 104.6C182.8 104.5 180.0 104.1 178.5 102.5C177.0 100.9 176.4 97.2 176.2 95.0Z" fill="#c6c6c6" stroke="none" stroke-width="1" />
<ellipse cx="180.5" cy="99.5" rx="3.6" ry="3.8" fill="#e2e2e2"/>
<path d="M185.0 89.5C185.6 88.7 188.7 88.6 190.0 89.0C191.3 89.4 192.7 90.8 193.0 92.0C193.3 93.2 192.8 95.6 192.0 96.5C191.2 97.4 189.4 97.9 188.5 97.5C187.6 97.1 187.1 95.3 186.5 94.0C185.9 92.7 184.4 90.3 185.0 89.5Z" fill="#7a7a7a" stroke="none" stroke-width="1" />
<path d="M181.0 90.0C181.4 90.4 183.0 91.5 183.5 92.5C184.0 93.5 183.9 95.4 184.0 96.0" fill="none" stroke="#8a8a8a" stroke-width="1.4" />
<path d="M184.0 104.5C185.1 102.6 186.9 101.5 188.5 100.5C190.1 99.5 191.8 99.0 193.5 98.2C195.2 97.4 197.9 91.0 199.0 95.5C200.1 100.0 202.9 120.1 200.0 125.0C197.1 129.9 184.5 127.2 181.5 125.0C178.5 122.8 181.6 115.4 182.0 112.0C182.4 108.6 182.9 106.4 184.0 104.5Z" fill="#050505" stroke="none" stroke-width="1" />
<path d="M240.2 95.0C240.4 92.8 239.9 90.9 238.9 89.5C237.9 88.1 236.3 87.2 234.4 86.8C232.5 86.3 229.5 86.5 227.4 86.8C225.3 87.1 223.2 87.5 221.9 88.5C220.6 89.5 220.0 91.2 219.8 93.0C219.5 94.8 219.6 97.3 220.4 99.0C221.2 100.7 222.6 102.3 224.4 103.2C226.2 104.1 229.1 104.7 231.4 104.6C233.6 104.5 236.4 104.1 237.9 102.5C239.4 100.9 240.0 97.2 240.2 95.0Z" fill="#c6c6c6" stroke="none" stroke-width="1" />
<ellipse cx="235.89999999999998" cy="99.5" rx="3.6" ry="3.8" fill="#e2e2e2"/>
<path d="M231.4 89.5C230.8 88.7 227.7 88.6 226.4 89.0C225.1 89.4 223.7 90.8 223.4 92.0C223.1 93.2 223.6 95.6 224.4 96.5C225.1 97.4 227.0 97.9 227.9 97.5C228.8 97.1 229.3 95.3 229.9 94.0C230.5 92.7 232.0 90.3 231.4 89.5Z" fill="#7a7a7a" stroke="none" stroke-width="1" />
<path d="M235.4 90.0C235.0 90.4 233.4 91.5 232.9 92.5C232.4 93.5 232.5 95.4 232.4 96.0" fill="none" stroke="#8a8a8a" stroke-width="1.4" />
<path d="M232.4 104.5C231.3 102.6 229.5 101.5 227.9 100.5C226.3 99.5 224.6 99.0 222.9 98.2C221.1 97.4 218.5 91.0 217.4 95.5C216.3 100.0 213.5 120.1 216.4 125.0C219.3 129.9 231.9 127.2 234.9 125.0C237.9 122.8 234.8 115.4 234.4 112.0C234.0 108.6 233.5 106.4 232.4 104.5Z" fill="#050505" stroke="none" stroke-width="1" />
<path d="M200.2 90.0C201.8 87.4 205.5 88.5 208.2 88.5C210.9 88.5 214.6 87.4 216.2 90.0C217.8 92.6 217.6 98.2 217.7 104.0C217.8 109.8 219.7 121.5 216.7 125.0C213.7 128.5 202.7 128.5 199.7 125.0C196.7 121.5 198.6 109.8 198.7 104.0C198.8 98.2 198.6 92.6 200.2 90.0Z" fill="#2d2d2d" stroke="none" stroke-width="1" />
<path d="M208.2 90V120M204.2 98q-2 8 0 18M212.2 98q2 8 0 18" stroke="#585858" stroke-width="1.2" fill="none"/>
<path d="M201.7 93q3 3 0 6M214.7 93q-3 3 0 6" stroke="#111" stroke-width="1.6" fill="none"/>
</g></g></g>
<path d="M203.6 66.7H208.2V73.8H205.9V76.5H203.4V73.8H203.6Z" fill="#f3e62e"/>
<g transform="">
<clipPath id="a1box"><rect x="1.5" y="123.4" width="140.6" height="115.2"/></clipPath>
<clipPath id="a1head"><path d="M6.4 180.5C6.4 178.7 6.4 176.8 6.7 175.0C7.0 173.2 7.4 171.9 8.4 169.5C9.4 167.1 11.3 163.3 12.8 160.4C14.3 157.5 15.5 154.8 17.4 152.1C19.2 149.4 21.4 146.7 23.9 144.3C26.3 141.9 29.2 139.8 32.1 137.9C35.0 136.0 38.3 134.2 41.3 132.8C44.3 131.4 46.9 130.2 50.0 129.2C53.1 128.2 56.8 127.2 60.0 126.6C63.2 126.0 65.3 125.4 69.0 125.5C72.7 125.6 77.5 126.2 82.0 127.0C86.5 127.8 92.1 129.0 96.0 130.1C99.9 131.2 102.2 132.4 105.2 133.8C108.2 135.2 111.5 137.0 114.3 138.8C117.0 140.6 119.4 142.6 121.7 144.8C124.0 147.0 126.1 149.3 128.1 152.1C130.1 154.8 132.1 158.3 133.6 161.3C135.1 164.3 136.4 167.6 137.2 170.0C138.0 172.4 138.3 174.2 138.6 176.0C138.9 177.8 139.0 179.0 139.0 180.5C139.0 182.0 138.9 183.2 138.6 185.0C138.3 186.8 138.0 188.6 137.2 191.0C136.4 193.4 135.1 196.7 133.6 199.7C132.1 202.7 130.1 206.2 128.1 208.9C126.1 211.7 124.0 214.0 121.7 216.2C119.4 218.4 117.0 220.4 114.3 222.2C111.5 224.0 108.2 225.8 105.2 227.2C102.2 228.6 99.9 229.8 96.0 230.9C92.1 232.0 86.5 233.2 82.0 234.0C77.5 234.8 72.7 235.4 69.0 235.5C65.3 235.6 63.2 235.0 60.0 234.4C56.8 233.8 53.1 232.8 50.0 231.8C46.9 230.8 44.3 229.6 41.3 228.2C38.3 226.8 35.0 225.0 32.1 223.1C29.2 221.2 26.3 219.1 23.9 216.7C21.4 214.3 19.2 211.6 17.4 208.9C15.5 206.2 14.3 203.5 12.8 200.6C11.3 197.7 9.4 193.9 8.4 191.5C7.4 189.1 7.0 187.8 6.7 186.0C6.4 184.2 6.4 182.3 6.4 180.5Z"/></clipPath>
<rect x="1.5" y="123.4" width="140.6" height="115.2" fill="#000"/>
<g clip-path="url(#a1box)"><g filter="url(#b07)">
<path d="M6.4 180.5C6.4 178.7 6.4 176.8 6.7 175.0C7.0 173.2 7.4 171.9 8.4 169.5C9.4 167.1 11.3 163.3 12.8 160.4C14.3 157.5 15.5 154.8 17.4 152.1C19.2 149.4 21.4 146.7 23.9 144.3C26.3 141.9 29.2 139.8 32.1 137.9C35.0 136.0 38.3 134.2 41.3 132.8C44.3 131.4 46.9 130.2 50.0 129.2C53.1 128.2 56.8 127.2 60.0 126.6C63.2 126.0 65.3 125.4 69.0 125.5C72.7 125.6 77.5 126.2 82.0 127.0C86.5 127.8 92.1 129.0 96.0 130.1C99.9 131.2 102.2 132.4 105.2 133.8C108.2 135.2 111.5 137.0 114.3 138.8C117.0 140.6 119.4 142.6 121.7 144.8C124.0 147.0 126.1 149.3 128.1 152.1C130.1 154.8 132.1 158.3 133.6 161.3C135.1 164.3 136.4 167.6 137.2 170.0C138.0 172.4 138.3 174.2 138.6 176.0C138.9 177.8 139.0 179.0 139.0 180.5C139.0 182.0 138.9 183.2 138.6 185.0C138.3 186.8 138.0 188.6 137.2 191.0C136.4 193.4 135.1 196.7 133.6 199.7C132.1 202.7 130.1 206.2 128.1 208.9C126.1 211.7 124.0 214.0 121.7 216.2C119.4 218.4 117.0 220.4 114.3 222.2C111.5 224.0 108.2 225.8 105.2 227.2C102.2 228.6 99.9 229.8 96.0 230.9C92.1 232.0 86.5 233.2 82.0 234.0C77.5 234.8 72.7 235.4 69.0 235.5C65.3 235.6 63.2 235.0 60.0 234.4C56.8 233.8 53.1 232.8 50.0 231.8C46.9 230.8 44.3 229.6 41.3 228.2C38.3 226.8 35.0 225.0 32.1 223.1C29.2 221.2 26.3 219.1 23.9 216.7C21.4 214.3 19.2 211.6 17.4 208.9C15.5 206.2 14.3 203.5 12.8 200.6C11.3 197.7 9.4 193.9 8.4 191.5C7.4 189.1 7.0 187.8 6.7 186.0C6.4 184.2 6.4 182.3 6.4 180.5Z" fill="#151515"/>
<g clip-path="url(#a1head)">
<path d="M30.0 139.0C30.0 138.2 43.5 133.7 50.0 132.0C56.5 130.3 62.7 129.2 69.0 129.0C75.3 128.8 81.5 129.2 88.0 131.0C94.5 132.8 108.0 138.7 108.0 139.5C108.0 140.3 94.5 136.8 88.0 136.0C81.5 135.2 75.3 134.4 69.0 134.5C62.7 134.6 56.5 135.8 50.0 136.5C43.5 137.2 30.0 139.8 30.0 139.0Z" fill="#575757" stroke="none" stroke-width="1" />
<path d="M30.0 222.0C30.0 222.8 43.5 227.3 50.0 229.0C56.5 230.7 62.7 231.8 69.0 232.0C75.3 232.2 81.5 231.8 88.0 230.0C94.5 228.2 108.0 222.3 108.0 221.5C108.0 220.7 94.5 224.2 88.0 225.0C81.5 225.8 75.3 226.6 69.0 226.5C62.7 226.4 56.5 225.2 50.0 224.5C43.5 223.8 30.0 221.2 30.0 222.0Z" fill="#575757" stroke="none" stroke-width="1" />
<path d="M6.4 180.5C6.4 178.7 6.4 176.8 6.7 175.0C7.0 173.2 7.4 171.9 8.4 169.5C9.4 167.1 11.3 163.3 12.8 160.4C14.3 157.5 15.5 154.8 17.4 152.1C19.2 149.4 21.4 146.7 23.9 144.3C26.3 141.9 29.2 139.8 32.1 137.9C35.0 136.0 38.3 134.2 41.3 132.8C44.3 131.4 46.9 130.2 50.0 129.2C53.1 128.2 56.8 127.2 60.0 126.6C63.2 126.0 65.3 125.4 69.0 125.5C72.7 125.6 77.5 126.2 82.0 127.0C86.5 127.8 92.1 129.0 96.0 130.1C99.9 131.2 102.2 132.4 105.2 133.8C108.2 135.2 111.5 137.0 114.3 138.8C117.0 140.6 119.4 142.6 121.7 144.8C124.0 147.0 126.1 149.3 128.1 152.1C130.1 154.8 132.1 158.3 133.6 161.3C135.1 164.3 136.4 167.6 137.2 170.0C138.0 172.4 138.3 174.2 138.6 176.0C138.9 177.8 139.0 179.0 139.0 180.5C139.0 182.0 138.9 183.2 138.6 185.0C138.3 186.8 138.0 188.6 137.2 191.0C136.4 193.4 135.1 196.7 133.6 199.7C132.1 202.7 130.1 206.2 128.1 208.9C126.1 211.7 124.0 214.0 121.7 216.2C119.4 218.4 117.0 220.4 114.3 222.2C111.5 224.0 108.2 225.8 105.2 227.2C102.2 228.6 99.9 229.8 96.0 230.9C92.1 232.0 86.5 233.2 82.0 234.0C77.5 234.8 72.7 235.4 69.0 235.5C65.3 235.6 63.2 235.0 60.0 234.4C56.8 233.8 53.1 232.8 50.0 231.8C46.9 230.8 44.3 229.6 41.3 228.2C38.3 226.8 35.0 225.0 32.1 223.1C29.2 221.2 26.3 219.1 23.9 216.7C21.4 214.3 19.2 211.6 17.4 208.9C15.5 206.2 14.3 203.5 12.8 200.6C11.3 197.7 9.4 193.9 8.4 191.5C7.4 189.1 7.0 187.8 6.7 186.0C6.4 184.2 6.4 182.3 6.4 180.5Z" fill="none" stroke="#b4b4b4" stroke-width="6.4"/>
<path d="M6.4 180.5C6.4 178.7 6.4 176.8 6.7 175.0C7.0 173.2 7.4 171.9 8.4 169.5C9.4 167.1 11.3 163.3 12.8 160.4C14.3 157.5 15.5 154.8 17.4 152.1C19.2 149.4 21.4 146.7 23.9 144.3C26.3 141.9 29.2 139.8 32.1 137.9C35.0 136.0 38.3 134.2 41.3 132.8C44.3 131.4 46.9 130.2 50.0 129.2C53.1 128.2 56.8 127.2 60.0 126.6C63.2 126.0 65.3 125.4 69.0 125.5C72.7 125.6 77.5 126.2 82.0 127.0C86.5 127.8 92.1 129.0 96.0 130.1C99.9 131.2 102.2 132.4 105.2 133.8C108.2 135.2 111.5 137.0 114.3 138.8C117.0 140.6 119.4 142.6 121.7 144.8C124.0 147.0 126.1 149.3 128.1 152.1C130.1 154.8 132.1 158.3 133.6 161.3C135.1 164.3 136.4 167.6 137.2 170.0C138.0 172.4 138.3 174.2 138.6 176.0C138.9 177.8 139.0 179.0 139.0 180.5C139.0 182.0 138.9 183.2 138.6 185.0C138.3 186.8 138.0 188.6 137.2 191.0C136.4 193.4 135.1 196.7 133.6 199.7C132.1 202.7 130.1 206.2 128.1 208.9C126.1 211.7 124.0 214.0 121.7 216.2C119.4 218.4 117.0 220.4 114.3 222.2C111.5 224.0 108.2 225.8 105.2 227.2C102.2 228.6 99.9 229.8 96.0 230.9C92.1 232.0 86.5 233.2 82.0 234.0C77.5 234.8 72.7 235.4 69.0 235.5C65.3 235.6 63.2 235.0 60.0 234.4C56.8 233.8 53.1 232.8 50.0 231.8C46.9 230.8 44.3 229.6 41.3 228.2C38.3 226.8 35.0 225.0 32.1 223.1C29.2 221.2 26.3 219.1 23.9 216.7C21.4 214.3 19.2 211.6 17.4 208.9C15.5 206.2 14.3 203.5 12.8 200.6C11.3 197.7 9.4 193.9 8.4 191.5C7.4 189.1 7.0 187.8 6.7 186.0C6.4 184.2 6.4 182.3 6.4 180.5Z" fill="none" stroke="#414141" stroke-width="3.4"/>
</g>
<clipPath id="a1br"><path d="M14.7 180.5C14.7 178.3 15.0 176.1 15.6 174.0C16.1 171.9 16.9 170.1 18.0 168.0C19.1 165.9 20.4 163.6 22.0 161.3C23.6 159.0 25.5 156.3 27.5 154.0C29.5 151.7 31.6 149.5 33.9 147.5C36.2 145.5 38.6 143.5 41.3 142.0C44.0 140.5 46.9 139.1 50.0 138.3C53.1 137.5 56.8 137.4 60.0 137.2C63.2 137.0 65.3 136.8 69.0 137.0C72.7 137.2 77.5 137.6 82.0 138.5C86.5 139.4 91.4 141.0 96.0 142.3C100.6 143.6 106.0 144.8 109.8 146.2C113.6 147.6 116.3 149.0 118.9 150.8C121.5 152.6 123.7 154.8 125.4 157.2C127.2 159.6 128.5 162.4 129.4 165.0C130.3 167.6 130.5 170.4 130.8 173.0C131.1 175.6 131.0 178.0 131.0 180.5C131.0 183.0 131.1 185.4 130.8 188.0C130.5 190.6 130.3 193.4 129.4 196.0C128.5 198.6 127.2 201.4 125.4 203.8C123.7 206.2 121.5 208.4 118.9 210.2C116.3 212.0 113.6 213.4 109.8 214.8C106.0 216.2 100.6 217.4 96.0 218.7C91.4 220.0 86.5 221.6 82.0 222.5C77.5 223.4 72.7 223.8 69.0 224.0C65.3 224.2 63.2 224.0 60.0 223.8C56.8 223.6 53.1 223.5 50.0 222.7C46.9 221.9 44.0 220.5 41.3 219.0C38.6 217.5 36.2 215.5 33.9 213.5C31.6 211.5 29.5 209.3 27.5 207.0C25.5 204.7 23.6 202.0 22.0 199.7C20.4 197.4 19.1 195.1 18.0 193.0C16.9 190.9 16.1 189.1 15.6 187.0C15.0 184.9 14.7 182.7 14.7 180.5Z"/></clipPath>
<path d="M14.7 180.5C14.7 178.3 15.0 176.1 15.6 174.0C16.1 171.9 16.9 170.1 18.0 168.0C19.1 165.9 20.4 163.6 22.0 161.3C23.6 159.0 25.5 156.3 27.5 154.0C29.5 151.7 31.6 149.5 33.9 147.5C36.2 145.5 38.6 143.5 41.3 142.0C44.0 140.5 46.9 139.1 50.0 138.3C53.1 137.5 56.8 137.4 60.0 137.2C63.2 137.0 65.3 136.8 69.0 137.0C72.7 137.2 77.5 137.6 82.0 138.5C86.5 139.4 91.4 141.0 96.0 142.3C100.6 143.6 106.0 144.8 109.8 146.2C113.6 147.6 116.3 149.0 118.9 150.8C121.5 152.6 123.7 154.8 125.4 157.2C127.2 159.6 128.5 162.4 129.4 165.0C130.3 167.6 130.5 170.4 130.8 173.0C131.1 175.6 131.0 178.0 131.0 180.5C131.0 183.0 131.1 185.4 130.8 188.0C130.5 190.6 130.3 193.4 129.4 196.0C128.5 198.6 127.2 201.4 125.4 203.8C123.7 206.2 121.5 208.4 118.9 210.2C116.3 212.0 113.6 213.4 109.8 214.8C106.0 216.2 100.6 217.4 96.0 218.7C91.4 220.0 86.5 221.6 82.0 222.5C77.5 223.4 72.7 223.8 69.0 224.0C65.3 224.2 63.2 224.0 60.0 223.8C56.8 223.6 53.1 223.5 50.0 222.7C46.9 221.9 44.0 220.5 41.3 219.0C38.6 217.5 36.2 215.5 33.9 213.5C31.6 211.5 29.5 209.3 27.5 207.0C25.5 204.7 23.6 202.0 22.0 199.7C20.4 197.4 19.1 195.1 18.0 193.0C16.9 190.9 16.1 189.1 15.6 187.0C15.0 184.9 14.7 182.7 14.7 180.5Z" fill="#707070"/>
<g clip-path="url(#a1br)">
<path d="M14.7 180.5C14.7 178.3 15.0 176.1 15.6 174.0C16.1 171.9 16.9 170.1 18.0 168.0C19.1 165.9 20.4 163.6 22.0 161.3C23.6 159.0 25.5 156.3 27.5 154.0C29.5 151.7 31.6 149.5 33.9 147.5C36.2 145.5 38.6 143.5 41.3 142.0C44.0 140.5 46.9 139.1 50.0 138.3C53.1 137.5 56.8 137.4 60.0 137.2C63.2 137.0 65.3 136.8 69.0 137.0C72.7 137.2 77.5 137.6 82.0 138.5C86.5 139.4 91.4 141.0 96.0 142.3C100.6 143.6 106.0 144.8 109.8 146.2C113.6 147.6 116.3 149.0 118.9 150.8C121.5 152.6 123.7 154.8 125.4 157.2C127.2 159.6 128.5 162.4 129.4 165.0C130.3 167.6 130.5 170.4 130.8 173.0C131.1 175.6 131.0 178.0 131.0 180.5C131.0 183.0 131.1 185.4 130.8 188.0C130.5 190.6 130.3 193.4 129.4 196.0C128.5 198.6 127.2 201.4 125.4 203.8C123.7 206.2 121.5 208.4 118.9 210.2C116.3 212.0 113.6 213.4 109.8 214.8C106.0 216.2 100.6 217.4 96.0 218.7C91.4 220.0 86.5 221.6 82.0 222.5C77.5 223.4 72.7 223.8 69.0 224.0C65.3 224.2 63.2 224.0 60.0 223.8C56.8 223.6 53.1 223.5 50.0 222.7C46.9 221.9 44.0 220.5 41.3 219.0C38.6 217.5 36.2 215.5 33.9 213.5C31.6 211.5 29.5 209.3 27.5 207.0C25.5 204.7 23.6 202.0 22.0 199.7C20.4 197.4 19.1 195.1 18.0 193.0C16.9 190.9 16.1 189.1 15.6 187.0C15.0 184.9 14.7 182.7 14.7 180.5Z" fill="none" stroke="#626262" stroke-width="7"/>
<g filter="url(#wob)">
<path d="M14.7 180.5C14.7 178.3 15.0 176.1 15.6 174.0C16.1 171.9 16.9 170.1 18.0 168.0C19.1 165.9 20.4 163.6 22.0 161.3C23.6 159.0 25.5 156.3 27.5 154.0C29.5 151.7 31.6 149.5 33.9 147.5C36.2 145.5 38.6 143.5 41.3 142.0C44.0 140.5 46.9 139.1 50.0 138.3C53.1 137.5 56.8 137.4 60.0 137.2C63.2 137.0 65.3 136.8 69.0 137.0C72.7 137.2 77.5 137.6 82.0 138.5C86.5 139.4 91.4 141.0 96.0 142.3C100.6 143.6 106.0 144.8 109.8 146.2C113.6 147.6 116.3 149.0 118.9 150.8C121.5 152.6 123.7 154.8 125.4 157.2C127.2 159.6 128.5 162.4 129.4 165.0C130.3 167.6 130.5 170.4 130.8 173.0C131.1 175.6 131.0 178.0 131.0 180.5C131.0 183.0 131.1 185.4 130.8 188.0C130.5 190.6 130.3 193.4 129.4 196.0C128.5 198.6 127.2 201.4 125.4 203.8C123.7 206.2 121.5 208.4 118.9 210.2C116.3 212.0 113.6 213.4 109.8 214.8C106.0 216.2 100.6 217.4 96.0 218.7C91.4 220.0 86.5 221.6 82.0 222.5C77.5 223.4 72.7 223.8 69.0 224.0C65.3 224.2 63.2 224.0 60.0 223.8C56.8 223.6 53.1 223.5 50.0 222.7C46.9 221.9 44.0 220.5 41.3 219.0C38.6 217.5 36.2 215.5 33.9 213.5C31.6 211.5 29.5 209.3 27.5 207.0C25.5 204.7 23.6 202.0 22.0 199.7C20.4 197.4 19.1 195.1 18.0 193.0C16.9 190.9 16.1 189.1 15.6 187.0C15.0 184.9 14.7 182.7 14.7 180.5Z" fill="none" stroke="#2c2c2c" stroke-width="16" stroke-dasharray="2.8 4.1 2.4 5.9 3.0 3.0" stroke-dashoffset="2"/>
<path d="M14.7 180.5C14.7 178.3 15.0 176.1 15.6 174.0C16.1 171.9 16.9 170.1 18.0 168.0C19.1 165.9 20.4 163.6 22.0 161.3C23.6 159.0 25.5 156.3 27.5 154.0C29.5 151.7 31.6 149.5 33.9 147.5C36.2 145.5 38.6 143.5 41.3 142.0C44.0 140.5 46.9 139.1 50.0 138.3C53.1 137.5 56.8 137.4 60.0 137.2C63.2 137.0 65.3 136.8 69.0 137.0C72.7 137.2 77.5 137.6 82.0 138.5C86.5 139.4 91.4 141.0 96.0 142.3C100.6 143.6 106.0 144.8 109.8 146.2C113.6 147.6 116.3 149.0 118.9 150.8C121.5 152.6 123.7 154.8 125.4 157.2C127.2 159.6 128.5 162.4 129.4 165.0C130.3 167.6 130.5 170.4 130.8 173.0C131.1 175.6 131.0 178.0 131.0 180.5C131.0 183.0 131.1 185.4 130.8 188.0C130.5 190.6 130.3 193.4 129.4 196.0C128.5 198.6 127.2 201.4 125.4 203.8C123.7 206.2 121.5 208.4 118.9 210.2C116.3 212.0 113.6 213.4 109.8 214.8C106.0 216.2 100.6 217.4 96.0 218.7C91.4 220.0 86.5 221.6 82.0 222.5C77.5 223.4 72.7 223.8 69.0 224.0C65.3 224.2 63.2 224.0 60.0 223.8C56.8 223.6 53.1 223.5 50.0 222.7C46.9 221.9 44.0 220.5 41.3 219.0C38.6 217.5 36.2 215.5 33.9 213.5C31.6 211.5 29.5 209.3 27.5 207.0C25.5 204.7 23.6 202.0 22.0 199.7C20.4 197.4 19.1 195.1 18.0 193.0C16.9 190.9 16.1 189.1 15.6 187.0C15.0 184.9 14.7 182.7 14.7 180.5Z" fill="none" stroke="#303030" stroke-width="27" stroke-dasharray="2.7 10.0 2.9 7.6"/>
</g>
<path d="M14.7 180.5C14.7 178.3 15.0 176.1 15.6 174.0C16.1 171.9 16.9 170.1 18.0 168.0C19.1 165.9 20.4 163.6 22.0 161.3C23.6 159.0 25.5 156.3 27.5 154.0C29.5 151.7 31.6 149.5 33.9 147.5C36.2 145.5 38.6 143.5 41.3 142.0C44.0 140.5 46.9 139.1 50.0 138.3C53.1 137.5 56.8 137.4 60.0 137.2C63.2 137.0 65.3 136.8 69.0 137.0C72.7 137.2 77.5 137.6 82.0 138.5C86.5 139.4 91.4 141.0 96.0 142.3C100.6 143.6 106.0 144.8 109.8 146.2C113.6 147.6 116.3 149.0 118.9 150.8C121.5 152.6 123.7 154.8 125.4 157.2C127.2 159.6 128.5 162.4 129.4 165.0C130.3 167.6 130.5 170.4 130.8 173.0C131.1 175.6 131.0 178.0 131.0 180.5C131.0 183.0 131.1 185.4 130.8 188.0C130.5 190.6 130.3 193.4 129.4 196.0C128.5 198.6 127.2 201.4 125.4 203.8C123.7 206.2 121.5 208.4 118.9 210.2C116.3 212.0 113.6 213.4 109.8 214.8C106.0 216.2 100.6 217.4 96.0 218.7C91.4 220.0 86.5 221.6 82.0 222.5C77.5 223.4 72.7 223.8 69.0 224.0C65.3 224.2 63.2 224.0 60.0 223.8C56.8 223.6 53.1 223.5 50.0 222.7C46.9 221.9 44.0 220.5 41.3 219.0C38.6 217.5 36.2 215.5 33.9 213.5C31.6 211.5 29.5 209.3 27.5 207.0C25.5 204.7 23.6 202.0 22.0 199.7C20.4 197.4 19.1 195.1 18.0 193.0C16.9 190.9 16.1 189.1 15.6 187.0C15.0 184.9 14.7 182.7 14.7 180.5Z" fill="none" stroke="#2c2c2c" stroke-width="1.6"/>
<path d="M12 184.0L40 181.0M119 180.5H134" stroke="#333" stroke-width="1.4"/>
<path d="M66 180.5H85" stroke="#2a2a2a" stroke-width="1.1"/>
<path d="M70.0 156.5C71.3 156.0 75.0 154.5 78.0 153.5C81.0 152.5 84.8 151.7 88.0 150.5C91.2 149.3 95.5 147.2 97.0 146.5" fill="none" stroke="#444" stroke-width="1.8" filter="url(#wob)"/>
<path d="M78.0 153.5C78.3 152.5 79.0 149.2 80.0 147.5C81.0 145.8 83.3 144.2 84.0 143.5" fill="none" stroke="#3e3e3e" stroke-width="1.5" />
<path d="M88.0 150.5 L91.0 144.5" fill="none" stroke="#3e3e3e" stroke-width="1.5" />
<ellipse cx="76" cy="170.5" rx="13" ry="6.5" fill="#7a7a7a" transform="rotate(-16 76 170.5)"/>
<path d="M66.0 163.5C67.7 163.2 72.3 162.5 76.0 161.5C79.7 160.5 86.0 158.2 88.0 157.5" fill="none" stroke="#5c5c5c" stroke-width="1.3" />
<path d="M70.0 204.5C71.3 205.0 75.0 206.5 78.0 207.5C81.0 208.5 84.8 209.3 88.0 210.5C91.2 211.7 95.5 213.8 97.0 214.5" fill="none" stroke="#444" stroke-width="1.8" filter="url(#wob)"/>
<path d="M78.0 207.5C78.3 208.5 79.0 211.8 80.0 213.5C81.0 215.2 83.3 216.8 84.0 217.5" fill="none" stroke="#3e3e3e" stroke-width="1.5" />
<path d="M88.0 210.5 L91.0 216.5" fill="none" stroke="#3e3e3e" stroke-width="1.5" />
<ellipse cx="76" cy="190.5" rx="13" ry="6.5" fill="#7a7a7a" transform="rotate(16 76 190.5)"/>
<path d="M66.0 197.5C67.7 197.8 72.3 198.5 76.0 199.5C79.7 200.5 86.0 202.8 88.0 203.5" fill="none" stroke="#5c5c5c" stroke-width="1.3" />
<path d="M84.5 180.5L91 177.5L100.5 171.0M84.5 180.5L91 184.0L100.5 191.5" stroke="#2a2a2a" stroke-width="1.6" fill="none"/>
<ellipse cx="86" cy="180.5" rx="2.4" ry="1.7" fill="#383838"/>
<path d="M47.0 167.5C47.5 167.8 50.0 165.8 52.0 164.5C54.0 163.2 57.7 161.2 59.0 160.0C60.3 158.8 60.7 157.8 60.0 157.5C59.3 157.2 56.8 157.7 55.0 158.5C53.2 159.3 50.3 161.0 49.0 162.5C47.7 164.0 46.5 167.2 47.0 167.5Z" fill="#333" stroke="none" stroke-width="1" />
<path d="M47.0 193.5C47.5 193.2 50.0 195.2 52.0 196.5C54.0 197.8 57.7 199.8 59.0 201.0C60.3 202.2 60.7 203.2 60.0 203.5C59.3 203.8 56.8 203.3 55.0 202.5C53.2 201.7 50.3 200.0 49.0 198.5C47.7 197.0 46.5 193.8 47.0 193.5Z" fill="#333" stroke="none" stroke-width="1" />
<path d="M38.0 181.0C38.0 179.2 41.0 176.8 43.0 175.5C45.0 174.2 47.5 173.2 50.0 173.0C52.5 172.8 55.2 173.2 58.0 174.5C60.8 175.8 67.0 178.5 67.0 180.5C67.0 182.5 60.8 185.2 58.0 186.5C55.2 187.8 52.5 188.5 50.0 188.5C47.5 188.5 45.0 187.8 43.0 186.5C41.0 185.2 38.0 182.8 38.0 181.0Z" fill="#343434" stroke="none" stroke-width="1" />
<rect x="46.5" y="176.9" width="9" height="7.2" fill="#606060"/>
<path d="M48.5 176.9v7.2M51 176.9v7.2M53.5 176.9v7.2" stroke="#2a2a2a" stroke-width="0.9"/>
<ellipse cx="112" cy="173.5" rx="2.2" ry="3" fill="#4a4a4a"/><ellipse cx="113" cy="188.5" rx="2.2" ry="3" fill="#4a4a4a"/>
</g>
</g></g></g>
<path d="M106 176.9H110.2V179.8H113.3V177.2H115.8V179.8H118.1V184.1H108.7V181.1H106Z" fill="#f3e62e"/>
<g transform="matrix(1.01280 0 0 1.02085 -0.117 299.554)">
<clipPath id="s2box"><rect x="1.3" y="2.2" width="140.6" height="115.1"/></clipPath>
<clipPath id="s2head"><path d="M6.5 140.0C-5.0 134.7 6.3 124.0 6.2 118.0C6.1 112.0 5.9 108.7 5.8 104.0C5.7 99.3 5.6 94.5 5.6 90.0C5.6 85.5 5.4 81.2 5.6 77.0C5.8 72.8 6.3 68.2 6.9 64.5C7.5 60.8 8.4 57.9 9.4 55.0C10.4 52.1 11.6 50.0 13.2 47.0C14.8 44.0 16.8 40.1 18.8 37.0C20.8 33.9 22.6 31.2 25.1 28.5C27.6 25.8 30.8 23.0 33.9 20.6C37.0 18.2 40.1 16.3 43.9 14.3C47.7 12.3 53.0 10.1 56.5 8.8C60.0 7.5 62.4 6.8 65.0 6.3C67.6 5.8 69.5 5.6 72.0 5.6C74.5 5.6 77.3 5.8 80.0 6.4C82.7 7.0 85.0 7.7 88.0 9.0C91.0 10.3 94.0 11.8 97.7 14.0C101.4 16.2 106.4 19.3 110.2 22.2C114.0 25.1 117.3 28.1 120.6 31.4C123.9 34.7 127.2 38.4 129.8 42.2C132.5 46.0 134.7 50.0 136.5 54.0C138.3 58.0 139.8 62.3 140.7 66.0C141.6 69.7 142.1 72.7 142.2 76.0C142.3 79.3 141.8 83.1 141.4 86.0C141.0 88.9 139.5 90.6 139.5 93.4C139.5 96.2 140.5 99.5 141.2 102.6C141.9 105.6 143.2 108.0 143.8 111.7C144.4 115.4 144.5 120.3 145.0 125.0C145.5 129.7 158.7 135.8 147.0 140.0C135.3 144.2 98.4 150.0 75.0 150.0C51.6 150.0 18.0 145.3 6.5 140.0Z"/></clipPath>
<rect x="1.3" y="2.2" width="140.6" height="115.1" fill="#000"/>
<g clip-path="url(#s2box)"><g filter="url(#b07)">
<path d="M6.5 140.0C-5.0 134.7 6.3 124.0 6.2 118.0C6.1 112.0 5.9 108.7 5.8 104.0C5.7 99.3 5.6 94.5 5.6 90.0C5.6 85.5 5.4 81.2 5.6 77.0C5.8 72.8 6.3 68.2 6.9 64.5C7.5 60.8 8.4 57.9 9.4 55.0C10.4 52.1 11.6 50.0 13.2 47.0C14.8 44.0 16.8 40.1 18.8 37.0C20.8 33.9 22.6 31.2 25.1 28.5C27.6 25.8 30.8 23.0 33.9 20.6C37.0 18.2 40.1 16.3 43.9 14.3C47.7 12.3 53.0 10.1 56.5 8.8C60.0 7.5 62.4 6.8 65.0 6.3C67.6 5.8 69.5 5.6 72.0 5.6C74.5 5.6 77.3 5.8 80.0 6.4C82.7 7.0 85.0 7.7 88.0 9.0C91.0 10.3 94.0 11.8 97.7 14.0C101.4 16.2 106.4 19.3 110.2 22.2C114.0 25.1 117.3 28.1 120.6 31.4C123.9 34.7 127.2 38.4 129.8 42.2C132.5 46.0 134.7 50.0 136.5 54.0C138.3 58.0 139.8 62.3 140.7 66.0C141.6 69.7 142.1 72.7 142.2 76.0C142.3 79.3 141.8 83.1 141.4 86.0C141.0 88.9 139.5 90.6 139.5 93.4C139.5 96.2 140.5 99.5 141.2 102.6C141.9 105.6 143.2 108.0 143.8 111.7C144.4 115.4 144.5 120.3 145.0 125.0C145.5 129.7 158.7 135.8 147.0 140.0C135.3 144.2 98.4 150.0 75.0 150.0C51.6 150.0 18.0 145.3 6.5 140.0Z" fill="#161616"/>
<g clip-path="url(#s2head)">
<path d="M6.0 70.0C8.1 71.2 10.4 73.7 12.5 77.0C14.6 80.3 16.0 86.1 18.5 90.0C21.0 93.9 24.2 97.5 27.5 100.5C30.8 103.5 34.7 106.0 38.0 108.0C41.3 110.0 44.3 109.7 47.5 112.5C50.7 115.3 64.9 122.9 57.0 125.0C49.1 127.1 9.5 134.2 0.0 125.0C-9.5 115.8 -1.0 79.2 0.0 70.0C1.0 60.8 3.9 68.8 6.0 70.0Z" fill="#4e4e4e" stroke="none" stroke-width="1" />
<path d="M78.0 98.0C82.2 93.2 88.8 96.8 95.0 96.0C101.2 95.2 108.8 93.7 115.0 93.0C121.2 92.3 126.8 90.8 132.0 92.0C137.2 93.2 143.7 94.5 146.0 100.0C148.3 105.5 158.7 120.8 146.0 125.0C133.3 129.2 81.3 129.5 70.0 125.0C58.7 120.5 73.8 102.8 78.0 98.0Z" fill="#2c2c2c" stroke="none" stroke-width="1" />
<path d="M6.5 140.0C-5.0 134.7 6.3 124.0 6.2 118.0C6.1 112.0 5.9 108.7 5.8 104.0C5.7 99.3 5.6 94.5 5.6 90.0C5.6 85.5 5.4 81.2 5.6 77.0C5.8 72.8 6.3 68.2 6.9 64.5C7.5 60.8 8.4 57.9 9.4 55.0C10.4 52.1 11.6 50.0 13.2 47.0C14.8 44.0 16.8 40.1 18.8 37.0C20.8 33.9 22.6 31.2 25.1 28.5C27.6 25.8 30.8 23.0 33.9 20.6C37.0 18.2 40.1 16.3 43.9 14.3C47.7 12.3 53.0 10.1 56.5 8.8C60.0 7.5 62.4 6.8 65.0 6.3C67.6 5.8 69.5 5.6 72.0 5.6C74.5 5.6 77.3 5.8 80.0 6.4C82.7 7.0 85.0 7.7 88.0 9.0C91.0 10.3 94.0 11.8 97.7 14.0C101.4 16.2 106.4 19.3 110.2 22.2C114.0 25.1 117.3 28.1 120.6 31.4C123.9 34.7 127.2 38.4 129.8 42.2C132.5 46.0 134.7 50.0 136.5 54.0C138.3 58.0 139.8 62.3 140.7 66.0C141.6 69.7 142.1 72.7 142.2 76.0C142.3 79.3 141.8 83.1 141.4 86.0C141.0 88.9 139.5 90.6 139.5 93.4C139.5 96.2 140.5 99.5 141.2 102.6C141.9 105.6 143.2 108.0 143.8 111.7C144.4 115.4 144.5 120.3 145.0 125.0C145.5 129.7 158.7 135.8 147.0 140.0C135.3 144.2 98.4 150.0 75.0 150.0C51.6 150.0 18.0 145.3 6.5 140.0Z" fill="none" stroke="#c4c4c4" stroke-width="11.4"/>
<path d="M6.5 140.0C-5.0 134.7 6.3 124.0 6.2 118.0C6.1 112.0 5.9 108.7 5.8 104.0C5.7 99.3 5.6 94.5 5.6 90.0C5.6 85.5 5.4 81.2 5.6 77.0C5.8 72.8 6.3 68.2 6.9 64.5C7.5 60.8 8.4 57.9 9.4 55.0C10.4 52.1 11.6 50.0 13.2 47.0C14.8 44.0 16.8 40.1 18.8 37.0C20.8 33.9 22.6 31.2 25.1 28.5C27.6 25.8 30.8 23.0 33.9 20.6C37.0 18.2 40.1 16.3 43.9 14.3C47.7 12.3 53.0 10.1 56.5 8.8C60.0 7.5 62.4 6.8 65.0 6.3C67.6 5.8 69.5 5.6 72.0 5.6C74.5 5.6 77.3 5.8 80.0 6.4C82.7 7.0 85.0 7.7 88.0 9.0C91.0 10.3 94.0 11.8 97.7 14.0C101.4 16.2 106.4 19.3 110.2 22.2C114.0 25.1 117.3 28.1 120.6 31.4C123.9 34.7 127.2 38.4 129.8 42.2C132.5 46.0 134.7 50.0 136.5 54.0C138.3 58.0 139.8 62.3 140.7 66.0C141.6 69.7 142.1 72.7 142.2 76.0C142.3 79.3 141.8 83.1 141.4 86.0C141.0 88.9 139.5 90.6 139.5 93.4C139.5 96.2 140.5 99.5 141.2 102.6C141.9 105.6 143.2 108.0 143.8 111.7C144.4 115.4 144.5 120.3 145.0 125.0C145.5 129.7 158.7 135.8 147.0 140.0C135.3 144.2 98.4 150.0 75.0 150.0C51.6 150.0 18.0 145.3 6.5 140.0Z" fill="none" stroke="#3b3b3b" stroke-width="8"/>
</g>
<clipPath id="s2cer"><path d="M16.2 68.0C16.4 64.8 17.5 61.1 18.5 58.0C19.5 54.9 20.9 52.3 22.4 49.5C23.8 46.7 25.5 43.8 27.2 41.3C28.9 38.8 30.5 36.7 32.6 34.6C34.7 32.5 37.1 30.5 39.8 28.6C42.5 26.7 45.4 24.8 48.6 23.2C51.8 21.6 56.1 20.0 59.0 19.0C61.9 18.0 63.7 17.6 66.0 17.3C68.3 17.0 69.8 16.9 73.0 17.3C76.2 17.8 81.3 18.7 85.1 20.0C88.9 21.3 91.6 23.0 95.6 25.2C99.6 27.4 104.8 30.2 108.9 33.0C113.0 35.8 116.8 39.0 120.0 42.2C123.2 45.4 126.2 48.7 128.2 52.2C130.2 55.7 131.4 59.5 132.2 63.0C133.0 66.5 133.4 70.0 133.2 73.2C133.0 76.4 132.2 79.9 131.0 82.4C129.8 84.9 128.2 86.8 126.0 88.2C123.8 89.6 120.5 90.1 117.5 90.6C114.5 91.1 111.3 91.7 108.3 91.4C105.2 91.1 101.9 90.1 99.2 89.0C96.5 87.9 94.5 86.2 92.0 85.0C89.5 83.8 86.7 83.2 84.0 82.0C81.3 80.8 79.0 79.0 76.0 78.0C73.0 77.0 69.0 77.0 66.0 76.0C63.0 75.0 60.7 73.2 58.0 72.0C55.3 70.8 52.3 69.3 50.0 69.0C47.7 68.7 46.2 68.8 44.0 70.0C41.8 71.2 39.3 74.0 37.0 76.0C34.7 78.0 32.5 80.8 30.0 82.0C27.5 83.2 24.2 83.8 22.0 83.0C19.8 82.2 18.0 79.5 17.0 77.0C16.0 74.5 15.9 71.2 16.2 68.0Z"/></clipPath>
<path d="M16.2 68.0C16.4 64.8 17.5 61.1 18.5 58.0C19.5 54.9 20.9 52.3 22.4 49.5C23.8 46.7 25.5 43.8 27.2 41.3C28.9 38.8 30.5 36.7 32.6 34.6C34.7 32.5 37.1 30.5 39.8 28.6C42.5 26.7 45.4 24.8 48.6 23.2C51.8 21.6 56.1 20.0 59.0 19.0C61.9 18.0 63.7 17.6 66.0 17.3C68.3 17.0 69.8 16.9 73.0 17.3C76.2 17.8 81.3 18.7 85.1 20.0C88.9 21.3 91.6 23.0 95.6 25.2C99.6 27.4 104.8 30.2 108.9 33.0C113.0 35.8 116.8 39.0 120.0 42.2C123.2 45.4 126.2 48.7 128.2 52.2C130.2 55.7 131.4 59.5 132.2 63.0C133.0 66.5 133.4 70.0 133.2 73.2C133.0 76.4 132.2 79.9 131.0 82.4C129.8 84.9 128.2 86.8 126.0 88.2C123.8 89.6 120.5 90.1 117.5 90.6C114.5 91.1 111.3 91.7 108.3 91.4C105.2 91.1 101.9 90.1 99.2 89.0C96.5 87.9 94.5 86.2 92.0 85.0C89.5 83.8 86.7 83.2 84.0 82.0C81.3 80.8 79.0 79.0 76.0 78.0C73.0 77.0 69.0 77.0 66.0 76.0C63.0 75.0 60.7 73.2 58.0 72.0C55.3 70.8 52.3 69.3 50.0 69.0C47.7 68.7 46.2 68.8 44.0 70.0C41.8 71.2 39.3 74.0 37.0 76.0C34.7 78.0 32.5 80.8 30.0 82.0C27.5 83.2 24.2 83.8 22.0 83.0C19.8 82.2 18.0 79.5 17.0 77.0C16.0 74.5 15.9 71.2 16.2 68.0Z" fill="#5e5e5e"/>
<g clip-path="url(#s2cer)">
<path d="M30.0 62.0C29.3 58.3 33.0 52.0 36.0 48.0C39.0 44.0 43.7 40.7 48.0 38.0C52.3 35.3 57.0 33.0 62.0 32.0C67.0 31.0 72.7 31.0 78.0 32.0C83.3 33.0 89.0 35.3 94.0 38.0C99.0 40.7 104.3 44.3 108.0 48.0C111.7 51.7 114.3 55.7 116.0 60.0C117.7 64.3 119.3 70.7 118.0 74.0C116.7 77.3 111.7 80.3 108.0 80.0C104.3 79.7 100.7 76.7 96.0 72.0C91.3 67.3 85.7 55.7 80.0 52.0C74.3 48.3 67.0 48.7 62.0 50.0C57.0 51.3 53.7 56.7 50.0 60.0C46.3 63.3 43.3 69.7 40.0 70.0C36.7 70.3 30.7 65.7 30.0 62.0Z" fill="#656565" stroke="none" stroke-width="1" filter="url(#b2)"/>
<path d="M16.2 68.0C16.4 64.8 17.5 61.1 18.5 58.0C19.5 54.9 20.9 52.3 22.4 49.5C23.8 46.7 25.5 43.8 27.2 41.3C28.9 38.8 30.5 36.7 32.6 34.6C34.7 32.5 37.1 30.5 39.8 28.6C42.5 26.7 45.4 24.8 48.6 23.2C51.8 21.6 56.1 20.0 59.0 19.0C61.9 18.0 63.7 17.6 66.0 17.3C68.3 17.0 69.8 16.9 73.0 17.3C76.2 17.8 81.3 18.7 85.1 20.0C88.9 21.3 91.6 23.0 95.6 25.2C99.6 27.4 104.8 30.2 108.9 33.0C113.0 35.8 116.8 39.0 120.0 42.2C123.2 45.4 126.2 48.7 128.2 52.2C130.2 55.7 131.4 59.5 132.2 63.0C133.0 66.5 133.4 70.0 133.2 73.2C133.0 76.4 132.2 79.9 131.0 82.4C129.8 84.9 128.2 86.8 126.0 88.2C123.8 89.6 120.5 90.1 117.5 90.6C114.5 91.1 111.3 91.7 108.3 91.4C105.2 91.1 101.9 90.1 99.2 89.0C96.5 87.9 94.5 86.2 92.0 85.0C89.5 83.8 86.7 83.2 84.0 82.0C81.3 80.8 79.0 79.0 76.0 78.0C73.0 77.0 69.0 77.0 66.0 76.0C63.0 75.0 60.7 73.2 58.0 72.0C55.3 70.8 52.3 69.3 50.0 69.0C47.7 68.7 46.2 68.8 44.0 70.0C41.8 71.2 39.3 74.0 37.0 76.0C34.7 78.0 32.5 80.8 30.0 82.0C27.5 83.2 24.2 83.8 22.0 83.0C19.8 82.2 18.0 79.5 17.0 77.0C16.0 74.5 15.9 71.2 16.2 68.0Z" fill="none" stroke="#505050" stroke-width="6"/>
<g filter="url(#wob)">
<path d="M16.2 68.0C16.4 64.8 17.5 61.1 18.5 58.0C19.5 54.9 20.9 52.3 22.4 49.5C23.8 46.7 25.5 43.8 27.2 41.3C28.9 38.8 30.5 36.7 32.6 34.6C34.7 32.5 37.1 30.5 39.8 28.6C42.5 26.7 45.4 24.8 48.6 23.2C51.8 21.6 56.1 20.0 59.0 19.0C61.9 18.0 63.7 17.6 66.0 17.3C68.3 17.0 69.8 16.9 73.0 17.3C76.2 17.8 81.3 18.7 85.1 20.0C88.9 21.3 91.6 23.0 95.6 25.2C99.6 27.4 104.8 30.2 108.9 33.0C113.0 35.8 116.8 39.0 120.0 42.2C123.2 45.4 126.2 48.7 128.2 52.2C130.2 55.7 131.4 59.5 132.2 63.0C133.0 66.5 133.4 70.0 133.2 73.2C133.0 76.4 132.2 79.9 131.0 82.4C129.8 84.9 128.2 86.8 126.0 88.2C123.8 89.6 120.5 90.1 117.5 90.6C114.5 91.1 111.3 91.7 108.3 91.4C105.2 91.1 101.9 90.1 99.2 89.0C96.5 87.9 94.5 86.2 92.0 85.0C89.5 83.8 86.7 83.2 84.0 82.0C81.3 80.8 79.0 79.0 76.0 78.0C73.0 77.0 69.0 77.0 66.0 76.0C63.0 75.0 60.7 73.2 58.0 72.0C55.3 70.8 52.3 69.3 50.0 69.0C47.7 68.7 46.2 68.8 44.0 70.0C41.8 71.2 39.3 74.0 37.0 76.0C34.7 78.0 32.5 80.8 30.0 82.0C27.5 83.2 24.2 83.8 22.0 83.0C19.8 82.2 18.0 79.5 17.0 77.0C16.0 74.5 15.9 71.2 16.2 68.0Z" fill="none" stroke="#262626" stroke-width="17" stroke-dasharray="2.5 4.1 2.2 5.9 2.7 3.0" stroke-dashoffset="1"/>
<path d="M16.2 68.0C16.4 64.8 17.5 61.1 18.5 58.0C19.5 54.9 20.9 52.3 22.4 49.5C23.8 46.7 25.5 43.8 27.2 41.3C28.9 38.8 30.5 36.7 32.6 34.6C34.7 32.5 37.1 30.5 39.8 28.6C42.5 26.7 45.4 24.8 48.6 23.2C51.8 21.6 56.1 20.0 59.0 19.0C61.9 18.0 63.7 17.6 66.0 17.3C68.3 17.0 69.8 16.9 73.0 17.3C76.2 17.8 81.3 18.7 85.1 20.0C88.9 21.3 91.6 23.0 95.6 25.2C99.6 27.4 104.8 30.2 108.9 33.0C113.0 35.8 116.8 39.0 120.0 42.2C123.2 45.4 126.2 48.7 128.2 52.2C130.2 55.7 131.4 59.5 132.2 63.0C133.0 66.5 133.4 70.0 133.2 73.2C133.0 76.4 132.2 79.9 131.0 82.4C129.8 84.9 128.2 86.8 126.0 88.2C123.8 89.6 120.5 90.1 117.5 90.6C114.5 91.1 111.3 91.7 108.3 91.4C105.2 91.1 101.9 90.1 99.2 89.0C96.5 87.9 94.5 86.2 92.0 85.0C89.5 83.8 86.7 83.2 84.0 82.0C81.3 80.8 79.0 79.0 76.0 78.0C73.0 77.0 69.0 77.0 66.0 76.0C63.0 75.0 60.7 73.2 58.0 72.0C55.3 70.8 52.3 69.3 50.0 69.0C47.7 68.7 46.2 68.8 44.0 70.0C41.8 71.2 39.3 74.0 37.0 76.0C34.7 78.0 32.5 80.8 30.0 82.0C27.5 83.2 24.2 83.8 22.0 83.0C19.8 82.2 18.0 79.5 17.0 77.0C16.0 74.5 15.9 71.2 16.2 68.0Z" fill="none" stroke="#2a2a2a" stroke-width="26" stroke-dasharray="2.4 11.0 2.5 7.6"/>
</g>
<path d="M16.2 68.0C16.4 64.8 17.5 61.1 18.5 58.0C19.5 54.9 20.9 52.3 22.4 49.5C23.8 46.7 25.5 43.8 27.2 41.3C28.9 38.8 30.5 36.7 32.6 34.6C34.7 32.5 37.1 30.5 39.8 28.6C42.5 26.7 45.4 24.8 48.6 23.2C51.8 21.6 56.1 20.0 59.0 19.0C61.9 18.0 63.7 17.6 66.0 17.3C68.3 17.0 69.8 16.9 73.0 17.3C76.2 17.8 81.3 18.7 85.1 20.0C88.9 21.3 91.6 23.0 95.6 25.2C99.6 27.4 104.8 30.2 108.9 33.0C113.0 35.8 116.8 39.0 120.0 42.2C123.2 45.4 126.2 48.7 128.2 52.2C130.2 55.7 131.4 59.5 132.2 63.0C133.0 66.5 133.4 70.0 133.2 73.2C133.0 76.4 132.2 79.9 131.0 82.4C129.8 84.9 128.2 86.8 126.0 88.2C123.8 89.6 120.5 90.1 117.5 90.6C114.5 91.1 111.3 91.7 108.3 91.4C105.2 91.1 101.9 90.1 99.2 89.0C96.5 87.9 94.5 86.2 92.0 85.0C89.5 83.8 86.7 83.2 84.0 82.0C81.3 80.8 79.0 79.0 76.0 78.0C73.0 77.0 69.0 77.0 66.0 76.0C63.0 75.0 60.7 73.2 58.0 72.0C55.3 70.8 52.3 69.3 50.0 69.0C47.7 68.7 46.2 68.8 44.0 70.0C41.8 71.2 39.3 74.0 37.0 76.0C34.7 78.0 32.5 80.8 30.0 82.0C27.5 83.2 24.2 83.8 22.0 83.0C19.8 82.2 18.0 79.5 17.0 77.0C16.0 74.5 15.9 71.2 16.2 68.0Z" fill="none" stroke="#262626" stroke-width="1.6"/>
<path d="M56.0 56.0C57.0 54.5 59.0 49.2 62.0 47.0C65.0 44.8 69.7 43.1 74.0 42.5C78.3 41.9 83.7 42.2 88.0 43.5C92.3 44.8 96.7 47.2 100.0 50.0C103.3 52.8 106.2 56.7 108.0 60.0C109.8 63.3 111.0 66.7 111.0 70.0C111.0 73.3 108.5 78.3 108.0 80.0" fill="none" stroke="#363636" stroke-width="1.2" />
</g>
<ellipse cx="75" cy="67" rx="10" ry="6.5" fill="#505050"/>
<path d="M66.0 70.0C67.3 68.7 74.0 71.3 78.0 72.0C82.0 72.7 86.7 72.7 90.0 74.0C93.3 75.3 97.7 78.0 98.0 80.0C98.3 82.0 95.0 85.7 92.0 86.0C89.0 86.3 83.7 83.0 80.0 82.0C76.3 81.0 72.3 82.0 70.0 80.0C67.7 78.0 64.7 71.3 66.0 70.0Z" fill="#4a4a4a" stroke="none" stroke-width="1" />
<path d="M72.0 58.0C72.3 57.1 77.0 55.6 80.0 55.5C83.0 55.4 87.2 56.3 90.0 57.5C92.8 58.7 95.3 60.8 97.0 62.5C98.7 64.2 100.5 67.2 100.0 68.0C99.5 68.8 96.3 67.8 94.0 67.0C91.7 66.2 88.7 64.0 86.0 63.0C83.3 62.0 80.3 61.8 78.0 61.0C75.7 60.2 71.7 58.9 72.0 58.0Z" fill="#1d1d1d" stroke="none" stroke-width="1" />
<path d="M62.3 61.5C62.4 60.7 61.9 58.0 63.0 56.5C64.1 55.0 66.1 53.6 69.0 52.6C71.9 51.6 76.6 50.4 80.5 50.6C84.4 50.8 89.1 52.0 92.5 53.6C95.9 55.2 99.0 58.1 101.0 60.5C103.0 62.9 104.4 66.2 104.2 68.0C104.0 69.8 100.7 70.9 100.0 71.5" fill="none" stroke="#969696" stroke-width="4.0" stroke-linecap="round"/>
<circle cx="62.8" cy="60" r="3.3" fill="#969696"/>
<path d="M15.5 62.0C15.3 64.3 13.5 71.6 14.2 76.0C14.9 80.4 17.1 84.8 19.5 88.5C21.9 92.2 25.2 95.7 28.5 98.5C31.8 101.3 35.4 103.6 39.0 105.5C42.6 107.4 46.8 107.9 50.0 110.0C53.2 112.1 56.7 116.7 58.0 118.0" fill="none" stroke="#171717" stroke-width="3.4" />
<path d="M40.0 100.0C41.3 98.3 46.7 98.7 50.0 98.0C53.3 97.3 58.3 92.3 60.0 96.0C61.7 99.7 62.7 116.0 60.0 120.0C57.3 124.0 47.0 122.0 44.0 120.0C41.0 118.0 42.7 111.3 42.0 108.0C41.3 104.7 38.7 101.7 40.0 100.0Z" fill="#2b2b2b" stroke="none" stroke-width="1" />
<clipPath id="s2cb"><ellipse cx="44.0" cy="85.4" rx="16.2" ry="15.8"/></clipPath>
<ellipse cx="44.0" cy="85.4" rx="16.2" ry="15.8" fill="#484848"/>
<g clip-path="url(#s2cb)" stroke="#7a7a7a" stroke-width="2.1" fill="none" stroke-linecap="round" filter="url(#wob)">
<path d="M54.5 82L32.8 78.2"/>
<path d="M54.5 82L33.2 87.7"/>
<path d="M54.5 82L38.1 93.5"/>
<path d="M54.5 82L45.5 96.4"/>
<path d="M54.5 82L52.6 95.9"/>
<path d="M54.5 82L57.9 91.4"/>
<path d="M54.5 82L37.5 71.4"/>
<path d="M54.5 82L44.0 68.6"/>
<path d="M54.5 82L50.2 68.7"/>
</g>
<ellipse cx="41.5" cy="95" rx="9" ry="5.4" fill="#5c5c5c" transform="rotate(-24 41.5 95)"/>
<path d="M57.0 76.0C57.7 75.7 59.7 79.7 60.0 82.0C60.3 84.3 59.7 89.7 59.0 90.0C58.3 90.3 56.3 86.3 56.0 84.0C55.7 81.7 56.3 76.3 57.0 76.0Z" fill="#1c1c1c" stroke="none" stroke-width="1" />
<path d="M74.0 80.0C76.0 77.3 82.0 81.3 84.0 84.0C86.0 86.7 86.7 90.3 86.0 96.0C85.3 101.7 83.3 114.3 80.0 118.0C76.7 121.7 67.3 121.0 66.0 118.0C64.7 115.0 70.7 106.3 72.0 100.0C73.3 93.7 72.0 82.7 74.0 80.0Z" fill="#3a3a3a" stroke="none" stroke-width="1" />
<path d="M66.0 72.0C67.8 71.1 71.2 71.5 73.0 72.5C74.8 73.5 75.7 75.8 76.5 78.0C77.3 80.2 77.9 83.3 78.0 86.0C78.1 88.7 78.0 91.7 77.0 94.0C76.0 96.3 73.5 97.7 72.0 100.0C70.5 102.3 69.2 104.7 68.0 108.0C66.8 111.3 66.8 118.0 64.5 120.0C62.2 122.0 55.2 122.0 54.0 120.0C52.8 118.0 56.0 111.7 57.0 108.0C58.0 104.3 59.3 101.3 60.0 98.0C60.7 94.7 60.7 91.3 61.0 88.0C61.3 84.7 61.2 80.7 62.0 78.0C62.8 75.3 64.2 72.9 66.0 72.0Z" fill="#6e6e6e" stroke="none" stroke-width="1" />
<path d="M82.0 89.0C83.7 87.9 88.3 89.8 92.0 90.5C95.7 91.2 100.0 92.5 104.0 93.0C108.0 93.5 112.3 94.0 116.0 93.8C119.7 93.5 123.1 92.7 126.0 91.5C128.9 90.3 131.9 86.4 133.5 86.5C135.1 86.6 136.1 90.2 135.5 92.0C134.9 93.8 132.9 96.1 130.0 97.5C127.1 98.9 123.0 99.4 118.0 100.5C113.0 101.6 105.3 103.6 100.0 104.0C94.7 104.4 89.0 104.2 86.0 103.0C83.0 101.8 82.7 99.3 82.0 97.0C81.3 94.7 80.3 90.1 82.0 89.0Z" fill="#0a0a0a" stroke="none" stroke-width="1" />
<rect x="84.3" y="89.8" width="4.6" height="2.2" rx="1" fill="#d0d0d0"/>
<ellipse cx="130" cy="112" rx="9" ry="6" fill="#505050"/>
<path d="M11.0 90.0C11.2 91.3 11.5 95.3 12.0 98.0C12.5 100.7 13.7 104.7 14.0 106.0" fill="none" stroke="#9a9a9a" stroke-width="1.6" />
<path d="M27.0 108.0C27.8 108.8 30.5 111.3 32.0 113.0C33.5 114.7 35.3 117.2 36.0 118.0" fill="none" stroke="#8a8a8a" stroke-width="1.8" />
</g></g></g>
<path d="M111.8 367.6H119.4V370.6H122.4V377.1H117.1V380.9H110V377.1H111.8Z" fill="#f3e62e"/><rect x="115.8" y="370.6" width="3.6" height="4.4" fill="#fbf39a" filter="url(#b05)"/>
<g transform="matrix(1.01973 0 0 1.02074 -1.202 299.656)">
<clipPath id="c2box"><rect x="147.1" y="2.1" width="116.6" height="115.7"/></clipPath>
<clipPath id="c2head"><path d="M163.9 140.0C156.3 134.3 163.0 122.5 162.6 116.0C162.2 109.5 161.6 105.7 161.3 101.0C161.0 96.3 160.7 92.3 160.6 88.0C160.5 83.7 160.4 79.2 160.6 75.0C160.8 70.8 161.0 66.8 161.6 62.8C162.2 58.8 162.8 54.5 163.9 51.0C165.0 47.5 166.2 44.8 168.4 41.5C170.6 38.2 173.7 34.4 176.8 31.4C179.9 28.4 183.6 25.5 187.0 23.7C190.4 21.9 193.5 21.1 197.0 20.3C200.5 19.6 204.5 19.2 208.2 19.2C211.9 19.2 215.9 19.6 219.4 20.3C222.9 21.1 226.0 21.9 229.4 23.7C232.8 25.5 236.5 28.4 239.6 31.4C242.7 34.4 245.8 38.2 248.0 41.5C250.1 44.8 251.4 47.5 252.5 51.0C253.6 54.5 254.2 58.8 254.8 62.8C255.3 66.8 255.6 70.8 255.8 75.0C256.0 79.2 255.9 83.7 255.8 88.0C255.7 92.3 255.4 96.3 255.1 101.0C254.8 105.7 254.2 109.5 253.8 116.0C253.4 122.5 260.1 134.3 252.5 140.0C244.9 145.7 223.0 150.0 208.2 150.0C193.4 150.0 171.5 145.7 163.9 140.0Z"/></clipPath>
<rect x="147.1" y="2.1" width="116.6" height="115.7" fill="#000"/>
<g clip-path="url(#c2box)"><g filter="url(#b07)">
<path d="M163.9 140.0C156.3 134.3 163.0 122.5 162.6 116.0C162.2 109.5 161.6 105.7 161.3 101.0C161.0 96.3 160.7 92.3 160.6 88.0C160.5 83.7 160.4 79.2 160.6 75.0C160.8 70.8 161.0 66.8 161.6 62.8C162.2 58.8 162.8 54.5 163.9 51.0C165.0 47.5 166.2 44.8 168.4 41.5C170.6 38.2 173.7 34.4 176.8 31.4C179.9 28.4 183.6 25.5 187.0 23.7C190.4 21.9 193.5 21.1 197.0 20.3C200.5 19.6 204.5 19.2 208.2 19.2C211.9 19.2 215.9 19.6 219.4 20.3C222.9 21.1 226.0 21.9 229.4 23.7C232.8 25.5 236.5 28.4 239.6 31.4C242.7 34.4 245.8 38.2 248.0 41.5C250.1 44.8 251.4 47.5 252.5 51.0C253.6 54.5 254.2 58.8 254.8 62.8C255.3 66.8 255.6 70.8 255.8 75.0C256.0 79.2 255.9 83.7 255.8 88.0C255.7 92.3 255.4 96.3 255.1 101.0C254.8 105.7 254.2 109.5 253.8 116.0C253.4 122.5 260.1 134.3 252.5 140.0C244.9 145.7 223.0 150.0 208.2 150.0C193.4 150.0 171.5 145.7 163.9 140.0Z" fill="#3d3d3d"/>
<path d="M168.5 140.0C161.9 133.3 168.5 117.5 168.5 110.0C168.5 102.5 168.5 100.0 168.3 95.0C168.2 90.0 167.7 84.8 167.6 80.0C167.5 75.2 167.3 70.2 167.6 66.0C167.9 61.8 168.5 58.3 169.5 55.0C170.5 51.7 171.6 48.9 173.5 46.0C175.4 43.1 178.2 39.8 181.0 37.5C183.8 35.2 187.0 33.3 190.0 32.0C193.0 30.7 196.0 30.1 199.0 29.6C202.0 29.1 205.1 28.8 208.2 28.8C211.3 28.8 214.4 29.1 217.4 29.6C220.4 30.1 223.4 30.7 226.4 32.0C229.4 33.3 232.6 35.2 235.4 37.5C238.1 39.8 241.0 43.1 242.9 46.0C244.8 48.9 245.9 51.7 246.9 55.0C247.9 58.3 248.5 61.8 248.8 66.0C249.1 70.2 248.9 75.2 248.8 80.0C248.7 84.8 248.2 90.0 248.1 95.0C247.9 100.0 247.9 102.5 247.9 110.0C247.9 117.5 254.5 133.3 247.9 140.0C241.3 146.7 221.4 150.0 208.2 150.0C195.0 150.0 175.1 146.7 168.5 140.0Z" fill="#141414" stroke="none" stroke-width="1" />
<path d="M165.0 125.0C164.9 122.5 164.7 115.0 164.6 110.0C164.5 105.0 164.4 99.7 164.2 95.0C164.0 90.3 163.6 86.7 163.6 82.0C163.6 77.3 163.8 71.2 164.3 66.7C164.8 62.2 165.4 58.7 166.6 55.0C167.8 51.3 169.1 47.8 171.2 44.5C173.3 41.2 176.0 37.9 179.0 35.2C182.0 32.6 185.8 30.2 189.0 28.6C192.2 27.1 194.8 26.5 198.0 25.9C201.2 25.3 204.8 25.2 208.2 25.2C211.6 25.2 215.2 25.3 218.4 25.9C221.6 26.5 224.2 27.1 227.4 28.6C230.6 30.2 234.4 32.6 237.4 35.2C240.4 37.9 243.1 41.2 245.2 44.5C247.3 47.8 248.6 51.3 249.8 55.0C250.9 58.7 251.6 62.2 252.1 66.7C252.6 71.2 252.8 77.3 252.8 82.0C252.8 86.7 252.4 90.3 252.2 95.0C252.0 99.7 251.9 105.0 251.8 110.0C251.7 115.0 251.5 122.5 251.4 125.0" fill="none" stroke="#b4b4b4" stroke-width="1.7" />
<path d="M179.0 35.2C180.7 34.1 185.8 30.2 189.0 28.6C192.2 27.1 194.8 26.5 198.0 25.9C201.2 25.3 204.8 25.2 208.2 25.2C211.6 25.2 215.2 25.3 218.4 25.9C221.6 26.5 224.2 27.1 227.4 28.6C230.6 30.2 235.7 34.1 237.4 35.2" fill="none" stroke="#d2d2d2" stroke-width="1.9" />
<path d="M166.5 70.0C167.0 69.3 168.0 75.0 169.0 78.0C170.0 81.0 171.6 85.0 172.5 88.0C173.4 91.0 174.6 94.0 174.5 96.0C174.4 98.0 173.0 100.7 172.0 100.0C171.0 99.3 169.5 95.0 168.5 92.0C167.5 89.0 166.3 85.7 166.0 82.0C165.7 78.3 166.0 70.7 166.5 70.0Z" fill="#5a5a5a" stroke="none" stroke-width="1" />
<path d="M165.0 98.0C165.7 96.7 167.2 98.3 168.0 100.0C168.8 101.7 169.5 103.8 170.0 108.0C170.5 112.2 172.0 122.2 171.0 125.0C170.0 127.8 165.2 127.8 164.0 125.0C162.8 122.2 163.4 112.5 163.6 108.0C163.8 103.5 164.3 99.3 165.0 98.0Z" fill="#b9b9b9" stroke="none" stroke-width="1" />
<path d="M170.5 100.0C171.1 98.8 173.8 101.3 175.0 103.0C176.2 104.7 177.3 106.3 178.0 110.0C178.7 113.7 180.0 122.5 179.0 125.0C178.0 127.5 173.2 127.5 172.0 125.0C170.8 122.5 171.8 114.2 171.5 110.0C171.2 105.8 169.9 101.2 170.5 100.0Z" fill="#4a4a4a" stroke="none" stroke-width="1" />
<path d="M174.0 104.0C174.5 105.3 176.3 109.0 177.0 112.0C177.7 115.0 177.8 120.3 178.0 122.0" fill="none" stroke="#9a9a9a" stroke-width="1.3" />
<path d="M249.9 70.0C249.4 69.3 248.4 75.0 247.4 78.0C246.4 81.0 244.8 85.0 243.9 88.0C243.0 91.0 241.8 94.0 241.9 96.0C242.0 98.0 243.4 100.7 244.4 100.0C245.4 99.3 246.9 95.0 247.9 92.0C248.9 89.0 250.1 85.7 250.4 82.0C250.7 78.3 250.4 70.7 249.9 70.0Z" fill="#5a5a5a" stroke="none" stroke-width="1" />
<path d="M251.4 98.0C250.7 96.7 249.2 98.3 248.4 100.0C247.6 101.7 246.9 103.8 246.4 108.0C245.9 112.2 244.4 122.2 245.4 125.0C246.4 127.8 251.2 127.8 252.4 125.0C253.6 122.2 253.0 112.5 252.8 108.0C252.6 103.5 252.1 99.3 251.4 98.0Z" fill="#b9b9b9" stroke="none" stroke-width="1" />
<path d="M245.9 100.0C245.3 98.8 242.6 101.3 241.4 103.0C240.1 104.7 239.1 106.3 238.4 110.0C237.7 113.7 236.4 122.5 237.4 125.0C238.4 127.5 243.1 127.5 244.4 125.0C245.6 122.5 244.6 114.2 244.9 110.0C245.1 105.8 246.5 101.2 245.9 100.0Z" fill="#4a4a4a" stroke="none" stroke-width="1" />
<path d="M242.4 104.0C241.9 105.3 240.1 109.0 239.4 112.0C238.7 115.0 238.6 120.3 238.4 122.0" fill="none" stroke="#9a9a9a" stroke-width="1.3" />
<rect x="180.2" y="88" width="56" height="40" fill="#171717"/>
<clipPath id="c2br"><path d="M207.2 90.5C205.9 90.1 203.5 88.9 201.2 88.2C198.9 87.5 196.0 86.8 193.2 86.3C190.4 85.8 186.9 85.5 184.2 85.0C181.5 84.5 179.0 84.2 177.2 83.0C175.4 81.8 174.1 80.2 173.2 78.0C172.3 75.8 171.8 73.0 171.6 70.0C171.4 67.0 171.5 63.2 172.2 60.0C172.9 56.8 174.0 53.5 175.6 50.5C177.2 47.5 179.4 44.4 181.9 42.0C184.4 39.6 187.6 37.5 190.7 36.0C193.8 34.5 198.0 33.5 200.7 33.2C203.4 33.0 205.6 34.3 207.0 34.5C208.4 34.7 207.9 34.7 209.4 34.5C210.8 34.3 213.0 33.0 215.7 33.2C218.4 33.5 222.6 34.5 225.7 36.0C228.8 37.5 232.0 39.6 234.5 42.0C237.0 44.4 239.2 47.5 240.8 50.5C242.4 53.5 243.5 56.8 244.2 60.0C244.9 63.2 245.0 67.0 244.8 70.0C244.6 73.0 244.1 75.8 243.2 78.0C242.3 80.2 241.0 81.8 239.2 83.0C237.4 84.2 234.9 84.5 232.2 85.0C229.5 85.5 226.0 85.8 223.2 86.3C220.4 86.8 217.5 87.5 215.2 88.2C212.9 88.9 210.5 90.1 209.2 90.5C207.9 90.9 208.5 90.9 207.2 90.5Z"/></clipPath>
<path d="M207.2 90.5C205.9 90.1 203.5 88.9 201.2 88.2C198.9 87.5 196.0 86.8 193.2 86.3C190.4 85.8 186.9 85.5 184.2 85.0C181.5 84.5 179.0 84.2 177.2 83.0C175.4 81.8 174.1 80.2 173.2 78.0C172.3 75.8 171.8 73.0 171.6 70.0C171.4 67.0 171.5 63.2 172.2 60.0C172.9 56.8 174.0 53.5 175.6 50.5C177.2 47.5 179.4 44.4 181.9 42.0C184.4 39.6 187.6 37.5 190.7 36.0C193.8 34.5 198.0 33.5 200.7 33.2C203.4 33.0 205.6 34.3 207.0 34.5C208.4 34.7 207.9 34.7 209.4 34.5C210.8 34.3 213.0 33.0 215.7 33.2C218.4 33.5 222.6 34.5 225.7 36.0C228.8 37.5 232.0 39.6 234.5 42.0C237.0 44.4 239.2 47.5 240.8 50.5C242.4 53.5 243.5 56.8 244.2 60.0C244.9 63.2 245.0 67.0 244.8 70.0C244.6 73.0 244.1 75.8 243.2 78.0C242.3 80.2 241.0 81.8 239.2 83.0C237.4 84.2 234.9 84.5 232.2 85.0C229.5 85.5 226.0 85.8 223.2 86.3C220.4 86.8 217.5 87.5 215.2 88.2C212.9 88.9 210.5 90.1 209.2 90.5C207.9 90.9 208.5 90.9 207.2 90.5Z" fill="#5e5e5e"/>
<g clip-path="url(#c2br)">
<ellipse cx="226.2" cy="60" rx="11" ry="17" fill="#6a6a6a" filter="url(#b2)"/>
<ellipse cx="190.2" cy="60" rx="11" ry="17" fill="#6a6a6a" filter="url(#b2)"/>
<path d="M207.2 90.5C205.9 90.1 203.5 88.9 201.2 88.2C198.9 87.5 196.0 86.8 193.2 86.3C190.4 85.8 186.9 85.5 184.2 85.0C181.5 84.5 179.0 84.2 177.2 83.0C175.4 81.8 174.1 80.2 173.2 78.0C172.3 75.8 171.8 73.0 171.6 70.0C171.4 67.0 171.5 63.2 172.2 60.0C172.9 56.8 174.0 53.5 175.6 50.5C177.2 47.5 179.4 44.4 181.9 42.0C184.4 39.6 187.6 37.5 190.7 36.0C193.8 34.5 198.0 33.5 200.7 33.2C203.4 33.0 205.6 34.3 207.0 34.5C208.4 34.7 207.9 34.7 209.4 34.5C210.8 34.3 213.0 33.0 215.7 33.2C218.4 33.5 222.6 34.5 225.7 36.0C228.8 37.5 232.0 39.6 234.5 42.0C237.0 44.4 239.2 47.5 240.8 50.5C242.4 53.5 243.5 56.8 244.2 60.0C244.9 63.2 245.0 67.0 244.8 70.0C244.6 73.0 244.1 75.8 243.2 78.0C242.3 80.2 241.0 81.8 239.2 83.0C237.4 84.2 234.9 84.5 232.2 85.0C229.5 85.5 226.0 85.8 223.2 86.3C220.4 86.8 217.5 87.5 215.2 88.2C212.9 88.9 210.5 90.1 209.2 90.5C207.9 90.9 208.5 90.9 207.2 90.5Z" fill="none" stroke="#525252" stroke-width="6"/>
<g filter="url(#wob)">
<path d="M207.2 90.5C205.9 90.1 203.5 88.9 201.2 88.2C198.9 87.5 196.0 86.8 193.2 86.3C190.4 85.8 186.9 85.5 184.2 85.0C181.5 84.5 179.0 84.2 177.2 83.0C175.4 81.8 174.1 80.2 173.2 78.0C172.3 75.8 171.8 73.0 171.6 70.0C171.4 67.0 171.5 63.2 172.2 60.0C172.9 56.8 174.0 53.5 175.6 50.5C177.2 47.5 179.4 44.4 181.9 42.0C184.4 39.6 187.6 37.5 190.7 36.0C193.8 34.5 198.0 33.5 200.7 33.2C203.4 33.0 205.6 34.3 207.0 34.5C208.4 34.7 207.9 34.7 209.4 34.5C210.8 34.3 213.0 33.0 215.7 33.2C218.4 33.5 222.6 34.5 225.7 36.0C228.8 37.5 232.0 39.6 234.5 42.0C237.0 44.4 239.2 47.5 240.8 50.5C242.4 53.5 243.5 56.8 244.2 60.0C244.9 63.2 245.0 67.0 244.8 70.0C244.6 73.0 244.1 75.8 243.2 78.0C242.3 80.2 241.0 81.8 239.2 83.0C237.4 84.2 234.9 84.5 232.2 85.0C229.5 85.5 226.0 85.8 223.2 86.3C220.4 86.8 217.5 87.5 215.2 88.2C212.9 88.9 210.5 90.1 209.2 90.5C207.9 90.9 208.5 90.9 207.2 90.5Z" fill="none" stroke="#1e1e1e" stroke-width="16" stroke-dasharray="2.5 4.1 2.2 5.9 2.7 3.0" stroke-dashoffset="2"/>
<path d="M207.2 90.5C205.9 90.1 203.5 88.9 201.2 88.2C198.9 87.5 196.0 86.8 193.2 86.3C190.4 85.8 186.9 85.5 184.2 85.0C181.5 84.5 179.0 84.2 177.2 83.0C175.4 81.8 174.1 80.2 173.2 78.0C172.3 75.8 171.8 73.0 171.6 70.0C171.4 67.0 171.5 63.2 172.2 60.0C172.9 56.8 174.0 53.5 175.6 50.5C177.2 47.5 179.4 44.4 181.9 42.0C184.4 39.6 187.6 37.5 190.7 36.0C193.8 34.5 198.0 33.5 200.7 33.2C203.4 33.0 205.6 34.3 207.0 34.5C208.4 34.7 207.9 34.7 209.4 34.5C210.8 34.3 213.0 33.0 215.7 33.2C218.4 33.5 222.6 34.5 225.7 36.0C228.8 37.5 232.0 39.6 234.5 42.0C237.0 44.4 239.2 47.5 240.8 50.5C242.4 53.5 243.5 56.8 244.2 60.0C244.9 63.2 245.0 67.0 244.8 70.0C244.6 73.0 244.1 75.8 243.2 78.0C242.3 80.2 241.0 81.8 239.2 83.0C237.4 84.2 234.9 84.5 232.2 85.0C229.5 85.5 226.0 85.8 223.2 86.3C220.4 86.8 217.5 87.5 215.2 88.2C212.9 88.9 210.5 90.1 209.2 90.5C207.9 90.9 208.5 90.9 207.2 90.5Z" fill="none" stroke="#242424" stroke-width="25" stroke-dasharray="2.4 10.0 2.5 7.6"/>
</g>
<path d="M207.2 90.5C205.9 90.1 203.5 88.9 201.2 88.2C198.9 87.5 196.0 86.8 193.2 86.3C190.4 85.8 186.9 85.5 184.2 85.0C181.5 84.5 179.0 84.2 177.2 83.0C175.4 81.8 174.1 80.2 173.2 78.0C172.3 75.8 171.8 73.0 171.6 70.0C171.4 67.0 171.5 63.2 172.2 60.0C172.9 56.8 174.0 53.5 175.6 50.5C177.2 47.5 179.4 44.4 181.9 42.0C184.4 39.6 187.6 37.5 190.7 36.0C193.8 34.5 198.0 33.5 200.7 33.2C203.4 33.0 205.6 34.3 207.0 34.5C208.4 34.7 207.9 34.7 209.4 34.5C210.8 34.3 213.0 33.0 215.7 33.2C218.4 33.5 222.6 34.5 225.7 36.0C228.8 37.5 232.0 39.6 234.5 42.0C237.0 44.4 239.2 47.5 240.8 50.5C242.4 53.5 243.5 56.8 244.2 60.0C244.9 63.2 245.0 67.0 244.8 70.0C244.6 73.0 244.1 75.8 243.2 78.0C242.3 80.2 241.0 81.8 239.2 83.0C237.4 84.2 234.9 84.5 232.2 85.0C229.5 85.5 226.0 85.8 223.2 86.3C220.4 86.8 217.5 87.5 215.2 88.2C212.9 88.9 210.5 90.1 209.2 90.5C207.9 90.9 208.5 90.9 207.2 90.5Z" fill="none" stroke="#2a2a2a" stroke-width="1.6"/>
<path d="M208.2 30V92" stroke="#303030" stroke-width="1.5"/>
<path d="M208.2 42q3.0 -1 6 2.5" stroke="#3c3c3c" stroke-width="1.1" fill="none"/>
<path d="M208.2 50q4.0 -1 8 2.5" stroke="#3c3c3c" stroke-width="1.1" fill="none"/>
<path d="M208.2 58q3.5 -1 7 2.5" stroke="#3c3c3c" stroke-width="1.1" fill="none"/>
<path d="M208.2 66q4.5 -1 9 2.5" stroke="#3c3c3c" stroke-width="1.1" fill="none"/>
<path d="M208.2 75q4.0 -1 8 2.5" stroke="#3c3c3c" stroke-width="1.1" fill="none"/>
<path d="M208.2 83q3.0 -1 6 2.5" stroke="#3c3c3c" stroke-width="1.1" fill="none"/>
<path d="M208.2 42q-3.0 -1 -6 2.5" stroke="#3c3c3c" stroke-width="1.1" fill="none"/>
<path d="M208.2 50q-4.0 -1 -8 2.5" stroke="#3c3c3c" stroke-width="1.1" fill="none"/>
<path d="M208.2 58q-3.5 -1 -7 2.5" stroke="#3c3c3c" stroke-width="1.1" fill="none"/>
<path d="M208.2 66q-4.5 -1 -9 2.5" stroke="#3c3c3c" stroke-width="1.1" fill="none"/>
<path d="M208.2 75q-4.0 -1 -8 2.5" stroke="#3c3c3c" stroke-width="1.1" fill="none"/>
<path d="M208.2 83q-3.0 -1 -6 2.5" stroke="#3c3c3c" stroke-width="1.1" fill="none"/>
</g>
<path d="M176.2 95.0C176.0 92.8 176.5 90.9 177.5 89.5C178.5 88.1 180.1 87.2 182.0 86.8C183.9 86.3 186.9 86.5 189.0 86.8C191.1 87.1 193.2 87.5 194.5 88.5C195.8 89.5 196.3 91.2 196.6 93.0C196.8 94.8 196.8 97.3 196.0 99.0C195.2 100.7 193.8 102.3 192.0 103.2C190.2 104.1 187.2 104.7 185.0 104.6C182.8 104.5 180.0 104.1 178.5 102.5C177.0 100.9 176.4 97.2 176.2 95.0Z" fill="#c6c6c6" stroke="none" stroke-width="1" />
<ellipse cx="180.5" cy="99.5" rx="3.6" ry="3.8" fill="#e2e2e2"/>
<path d="M185.0 89.5C185.6 88.7 188.7 88.6 190.0 89.0C191.3 89.4 192.7 90.8 193.0 92.0C193.3 93.2 192.8 95.6 192.0 96.5C191.2 97.4 189.4 97.9 188.5 97.5C187.6 97.1 187.1 95.3 186.5 94.0C185.9 92.7 184.4 90.3 185.0 89.5Z" fill="#7a7a7a" stroke="none" stroke-width="1" />
<path d="M181.0 90.0C181.4 90.4 183.0 91.5 183.5 92.5C184.0 93.5 183.9 95.4 184.0 96.0" fill="none" stroke="#8a8a8a" stroke-width="1.4" />
<path d="M184.0 104.5C185.1 102.6 186.9 101.5 188.5 100.5C190.1 99.5 191.8 99.0 193.5 98.2C195.2 97.4 197.9 91.0 199.0 95.5C200.1 100.0 202.9 120.1 200.0 125.0C197.1 129.9 184.5 127.2 181.5 125.0C178.5 122.8 181.6 115.4 182.0 112.0C182.4 108.6 182.9 106.4 184.0 104.5Z" fill="#050505" stroke="none" stroke-width="1" />
<path d="M240.2 95.0C240.4 92.8 239.9 90.9 238.9 89.5C237.9 88.1 236.3 87.2 234.4 86.8C232.5 86.3 229.5 86.5 227.4 86.8C225.3 87.1 223.2 87.5 221.9 88.5C220.6 89.5 220.0 91.2 219.8 93.0C219.5 94.8 219.6 97.3 220.4 99.0C221.2 100.7 222.6 102.3 224.4 103.2C226.2 104.1 229.1 104.7 231.4 104.6C233.6 104.5 236.4 104.1 237.9 102.5C239.4 100.9 240.0 97.2 240.2 95.0Z" fill="#c6c6c6" stroke="none" stroke-width="1" />
<ellipse cx="235.89999999999998" cy="99.5" rx="3.6" ry="3.8" fill="#e2e2e2"/>
<path d="M231.4 89.5C230.8 88.7 227.7 88.6 226.4 89.0C225.1 89.4 223.7 90.8 223.4 92.0C223.1 93.2 223.6 95.6 224.4 96.5C225.1 97.4 227.0 97.9 227.9 97.5C228.8 97.1 229.3 95.3 229.9 94.0C230.5 92.7 232.0 90.3 231.4 89.5Z" fill="#7a7a7a" stroke="none" stroke-width="1" />
<path d="M235.4 90.0C235.0 90.4 233.4 91.5 232.9 92.5C232.4 93.5 232.5 95.4 232.4 96.0" fill="none" stroke="#8a8a8a" stroke-width="1.4" />
<path d="M232.4 104.5C231.3 102.6 229.5 101.5 227.9 100.5C226.3 99.5 224.6 99.0 222.9 98.2C221.1 97.4 218.5 91.0 217.4 95.5C216.3 100.0 213.5 120.1 216.4 125.0C219.3 129.9 231.9 127.2 234.9 125.0C237.9 122.8 234.8 115.4 234.4 112.0C234.0 108.6 233.5 106.4 232.4 104.5Z" fill="#050505" stroke="none" stroke-width="1" />
<path d="M200.2 90.0C201.8 87.4 205.5 88.5 208.2 88.5C210.9 88.5 214.6 87.4 216.2 90.0C217.8 92.6 217.6 98.2 217.7 104.0C217.8 109.8 219.7 121.5 216.7 125.0C213.7 128.5 202.7 128.5 199.7 125.0C196.7 121.5 198.6 109.8 198.7 104.0C198.8 98.2 198.6 92.6 200.2 90.0Z" fill="#2d2d2d" stroke="none" stroke-width="1" />
<path d="M208.2 90V120M204.2 98q-2 8 0 18M212.2 98q2 8 0 18" stroke="#585858" stroke-width="1.2" fill="none"/>
<path d="M201.7 93q3 3 0 6M214.7 93q-3 3 0 6" stroke="#111" stroke-width="1.6" fill="none"/>
</g></g></g>
<path d="M206 367.9H208.7V370.3H211.1V377.4H213.1V380.9H203.1V377.4H206Z" fill="#f3e62e"/>
<g transform="matrix(1.00996 0 0 1.01736 -0.315 299.258)">
<clipPath id="a2box"><rect x="1.5" y="123.4" width="140.6" height="115.2"/></clipPath>
<clipPath id="a2head"><path d="M6.4 180.5C6.4 178.7 6.4 176.8 6.7 175.0C7.0 173.2 7.4 171.9 8.4 169.5C9.4 167.1 11.3 163.3 12.8 160.4C14.3 157.5 15.5 154.8 17.4 152.1C19.2 149.4 21.4 146.7 23.9 144.3C26.3 141.9 29.2 139.8 32.1 137.9C35.0 136.0 38.3 134.2 41.3 132.8C44.3 131.4 46.9 130.2 50.0 129.2C53.1 128.2 56.8 127.2 60.0 126.6C63.2 126.0 65.3 125.4 69.0 125.5C72.7 125.6 77.5 126.2 82.0 127.0C86.5 127.8 92.1 129.0 96.0 130.1C99.9 131.2 102.2 132.4 105.2 133.8C108.2 135.2 111.5 137.0 114.3 138.8C117.0 140.6 119.4 142.6 121.7 144.8C124.0 147.0 126.1 149.3 128.1 152.1C130.1 154.8 132.1 158.3 133.6 161.3C135.1 164.3 136.4 167.6 137.2 170.0C138.0 172.4 138.3 174.2 138.6 176.0C138.9 177.8 139.0 179.0 139.0 180.5C139.0 182.0 138.9 183.2 138.6 185.0C138.3 186.8 138.0 188.6 137.2 191.0C136.4 193.4 135.1 196.7 133.6 199.7C132.1 202.7 130.1 206.2 128.1 208.9C126.1 211.7 124.0 214.0 121.7 216.2C119.4 218.4 117.0 220.4 114.3 222.2C111.5 224.0 108.2 225.8 105.2 227.2C102.2 228.6 99.9 229.8 96.0 230.9C92.1 232.0 86.5 233.2 82.0 234.0C77.5 234.8 72.7 235.4 69.0 235.5C65.3 235.6 63.2 235.0 60.0 234.4C56.8 233.8 53.1 232.8 50.0 231.8C46.9 230.8 44.3 229.6 41.3 228.2C38.3 226.8 35.0 225.0 32.1 223.1C29.2 221.2 26.3 219.1 23.9 216.7C21.4 214.3 19.2 211.6 17.4 208.9C15.5 206.2 14.3 203.5 12.8 200.6C11.3 197.7 9.4 193.9 8.4 191.5C7.4 189.1 7.0 187.8 6.7 186.0C6.4 184.2 6.4 182.3 6.4 180.5Z"/></clipPath>
<rect x="1.5" y="123.4" width="140.6" height="115.2" fill="#000"/>
<g clip-path="url(#a2box)"><g filter="url(#b07)">
<path d="M6.4 180.5C6.4 178.7 6.4 176.8 6.7 175.0C7.0 173.2 7.4 171.9 8.4 169.5C9.4 167.1 11.3 163.3 12.8 160.4C14.3 157.5 15.5 154.8 17.4 152.1C19.2 149.4 21.4 146.7 23.9 144.3C26.3 141.9 29.2 139.8 32.1 137.9C35.0 136.0 38.3 134.2 41.3 132.8C44.3 131.4 46.9 130.2 50.0 129.2C53.1 128.2 56.8 127.2 60.0 126.6C63.2 126.0 65.3 125.4 69.0 125.5C72.7 125.6 77.5 126.2 82.0 127.0C86.5 127.8 92.1 129.0 96.0 130.1C99.9 131.2 102.2 132.4 105.2 133.8C108.2 135.2 111.5 137.0 114.3 138.8C117.0 140.6 119.4 142.6 121.7 144.8C124.0 147.0 126.1 149.3 128.1 152.1C130.1 154.8 132.1 158.3 133.6 161.3C135.1 164.3 136.4 167.6 137.2 170.0C138.0 172.4 138.3 174.2 138.6 176.0C138.9 177.8 139.0 179.0 139.0 180.5C139.0 182.0 138.9 183.2 138.6 185.0C138.3 186.8 138.0 188.6 137.2 191.0C136.4 193.4 135.1 196.7 133.6 199.7C132.1 202.7 130.1 206.2 128.1 208.9C126.1 211.7 124.0 214.0 121.7 216.2C119.4 218.4 117.0 220.4 114.3 222.2C111.5 224.0 108.2 225.8 105.2 227.2C102.2 228.6 99.9 229.8 96.0 230.9C92.1 232.0 86.5 233.2 82.0 234.0C77.5 234.8 72.7 235.4 69.0 235.5C65.3 235.6 63.2 235.0 60.0 234.4C56.8 233.8 53.1 232.8 50.0 231.8C46.9 230.8 44.3 229.6 41.3 228.2C38.3 226.8 35.0 225.0 32.1 223.1C29.2 221.2 26.3 219.1 23.9 216.7C21.4 214.3 19.2 211.6 17.4 208.9C15.5 206.2 14.3 203.5 12.8 200.6C11.3 197.7 9.4 193.9 8.4 191.5C7.4 189.1 7.0 187.8 6.7 186.0C6.4 184.2 6.4 182.3 6.4 180.5Z" fill="#151515"/>
<g clip-path="url(#a2head)">
<path d="M30.0 139.0C30.0 138.2 43.5 133.7 50.0 132.0C56.5 130.3 62.7 129.2 69.0 129.0C75.3 128.8 81.5 129.2 88.0 131.0C94.5 132.8 108.0 138.7 108.0 139.5C108.0 140.3 94.5 136.8 88.0 136.0C81.5 135.2 75.3 134.4 69.0 134.5C62.7 134.6 56.5 135.8 50.0 136.5C43.5 137.2 30.0 139.8 30.0 139.0Z" fill="#575757" stroke="none" stroke-width="1" />
<path d="M30.0 222.0C30.0 222.8 43.5 227.3 50.0 229.0C56.5 230.7 62.7 231.8 69.0 232.0C75.3 232.2 81.5 231.8 88.0 230.0C94.5 228.2 108.0 222.3 108.0 221.5C108.0 220.7 94.5 224.2 88.0 225.0C81.5 225.8 75.3 226.6 69.0 226.5C62.7 226.4 56.5 225.2 50.0 224.5C43.5 223.8 30.0 221.2 30.0 222.0Z" fill="#575757" stroke="none" stroke-width="1" />
<path d="M6.4 180.5C6.4 178.7 6.4 176.8 6.7 175.0C7.0 173.2 7.4 171.9 8.4 169.5C9.4 167.1 11.3 163.3 12.8 160.4C14.3 157.5 15.5 154.8 17.4 152.1C19.2 149.4 21.4 146.7 23.9 144.3C26.3 141.9 29.2 139.8 32.1 137.9C35.0 136.0 38.3 134.2 41.3 132.8C44.3 131.4 46.9 130.2 50.0 129.2C53.1 128.2 56.8 127.2 60.0 126.6C63.2 126.0 65.3 125.4 69.0 125.5C72.7 125.6 77.5 126.2 82.0 127.0C86.5 127.8 92.1 129.0 96.0 130.1C99.9 131.2 102.2 132.4 105.2 133.8C108.2 135.2 111.5 137.0 114.3 138.8C117.0 140.6 119.4 142.6 121.7 144.8C124.0 147.0 126.1 149.3 128.1 152.1C130.1 154.8 132.1 158.3 133.6 161.3C135.1 164.3 136.4 167.6 137.2 170.0C138.0 172.4 138.3 174.2 138.6 176.0C138.9 177.8 139.0 179.0 139.0 180.5C139.0 182.0 138.9 183.2 138.6 185.0C138.3 186.8 138.0 188.6 137.2 191.0C136.4 193.4 135.1 196.7 133.6 199.7C132.1 202.7 130.1 206.2 128.1 208.9C126.1 211.7 124.0 214.0 121.7 216.2C119.4 218.4 117.0 220.4 114.3 222.2C111.5 224.0 108.2 225.8 105.2 227.2C102.2 228.6 99.9 229.8 96.0 230.9C92.1 232.0 86.5 233.2 82.0 234.0C77.5 234.8 72.7 235.4 69.0 235.5C65.3 235.6 63.2 235.0 60.0 234.4C56.8 233.8 53.1 232.8 50.0 231.8C46.9 230.8 44.3 229.6 41.3 228.2C38.3 226.8 35.0 225.0 32.1 223.1C29.2 221.2 26.3 219.1 23.9 216.7C21.4 214.3 19.2 211.6 17.4 208.9C15.5 206.2 14.3 203.5 12.8 200.6C11.3 197.7 9.4 193.9 8.4 191.5C7.4 189.1 7.0 187.8 6.7 186.0C6.4 184.2 6.4 182.3 6.4 180.5Z" fill="none" stroke="#b4b4b4" stroke-width="6.4"/>
<path d="M6.4 180.5C6.4 178.7 6.4 176.8 6.7 175.0C7.0 173.2 7.4 171.9 8.4 169.5C9.4 167.1 11.3 163.3 12.8 160.4C14.3 157.5 15.5 154.8 17.4 152.1C19.2 149.4 21.4 146.7 23.9 144.3C26.3 141.9 29.2 139.8 32.1 137.9C35.0 136.0 38.3 134.2 41.3 132.8C44.3 131.4 46.9 130.2 50.0 129.2C53.1 128.2 56.8 127.2 60.0 126.6C63.2 126.0 65.3 125.4 69.0 125.5C72.7 125.6 77.5 126.2 82.0 127.0C86.5 127.8 92.1 129.0 96.0 130.1C99.9 131.2 102.2 132.4 105.2 133.8C108.2 135.2 111.5 137.0 114.3 138.8C117.0 140.6 119.4 142.6 121.7 144.8C124.0 147.0 126.1 149.3 128.1 152.1C130.1 154.8 132.1 158.3 133.6 161.3C135.1 164.3 136.4 167.6 137.2 170.0C138.0 172.4 138.3 174.2 138.6 176.0C138.9 177.8 139.0 179.0 139.0 180.5C139.0 182.0 138.9 183.2 138.6 185.0C138.3 186.8 138.0 188.6 137.2 191.0C136.4 193.4 135.1 196.7 133.6 199.7C132.1 202.7 130.1 206.2 128.1 208.9C126.1 211.7 124.0 214.0 121.7 216.2C119.4 218.4 117.0 220.4 114.3 222.2C111.5 224.0 108.2 225.8 105.2 227.2C102.2 228.6 99.9 229.8 96.0 230.9C92.1 232.0 86.5 233.2 82.0 234.0C77.5 234.8 72.7 235.4 69.0 235.5C65.3 235.6 63.2 235.0 60.0 234.4C56.8 233.8 53.1 232.8 50.0 231.8C46.9 230.8 44.3 229.6 41.3 228.2C38.3 226.8 35.0 225.0 32.1 223.1C29.2 221.2 26.3 219.1 23.9 216.7C21.4 214.3 19.2 211.6 17.4 208.9C15.5 206.2 14.3 203.5 12.8 200.6C11.3 197.7 9.4 193.9 8.4 191.5C7.4 189.1 7.0 187.8 6.7 186.0C6.4 184.2 6.4 182.3 6.4 180.5Z" fill="none" stroke="#414141" stroke-width="3.4"/>
</g>
<clipPath id="a2br"><path d="M14.7 180.5C14.7 178.3 15.0 176.1 15.6 174.0C16.1 171.9 16.9 170.1 18.0 168.0C19.1 165.9 20.4 163.6 22.0 161.3C23.6 159.0 25.5 156.3 27.5 154.0C29.5 151.7 31.6 149.5 33.9 147.5C36.2 145.5 38.6 143.5 41.3 142.0C44.0 140.5 46.9 139.1 50.0 138.3C53.1 137.5 56.8 137.4 60.0 137.2C63.2 137.0 65.3 136.8 69.0 137.0C72.7 137.2 77.5 137.6 82.0 138.5C86.5 139.4 91.4 141.0 96.0 142.3C100.6 143.6 106.0 144.8 109.8 146.2C113.6 147.6 116.3 149.0 118.9 150.8C121.5 152.6 123.7 154.8 125.4 157.2C127.2 159.6 128.5 162.4 129.4 165.0C130.3 167.6 130.5 170.4 130.8 173.0C131.1 175.6 131.0 178.0 131.0 180.5C131.0 183.0 131.1 185.4 130.8 188.0C130.5 190.6 130.3 193.4 129.4 196.0C128.5 198.6 127.2 201.4 125.4 203.8C123.7 206.2 121.5 208.4 118.9 210.2C116.3 212.0 113.6 213.4 109.8 214.8C106.0 216.2 100.6 217.4 96.0 218.7C91.4 220.0 86.5 221.6 82.0 222.5C77.5 223.4 72.7 223.8 69.0 224.0C65.3 224.2 63.2 224.0 60.0 223.8C56.8 223.6 53.1 223.5 50.0 222.7C46.9 221.9 44.0 220.5 41.3 219.0C38.6 217.5 36.2 215.5 33.9 213.5C31.6 211.5 29.5 209.3 27.5 207.0C25.5 204.7 23.6 202.0 22.0 199.7C20.4 197.4 19.1 195.1 18.0 193.0C16.9 190.9 16.1 189.1 15.6 187.0C15.0 184.9 14.7 182.7 14.7 180.5Z"/></clipPath>
<path d="M14.7 180.5C14.7 178.3 15.0 176.1 15.6 174.0C16.1 171.9 16.9 170.1 18.0 168.0C19.1 165.9 20.4 163.6 22.0 161.3C23.6 159.0 25.5 156.3 27.5 154.0C29.5 151.7 31.6 149.5 33.9 147.5C36.2 145.5 38.6 143.5 41.3 142.0C44.0 140.5 46.9 139.1 50.0 138.3C53.1 137.5 56.8 137.4 60.0 137.2C63.2 137.0 65.3 136.8 69.0 137.0C72.7 137.2 77.5 137.6 82.0 138.5C86.5 139.4 91.4 141.0 96.0 142.3C100.6 143.6 106.0 144.8 109.8 146.2C113.6 147.6 116.3 149.0 118.9 150.8C121.5 152.6 123.7 154.8 125.4 157.2C127.2 159.6 128.5 162.4 129.4 165.0C130.3 167.6 130.5 170.4 130.8 173.0C131.1 175.6 131.0 178.0 131.0 180.5C131.0 183.0 131.1 185.4 130.8 188.0C130.5 190.6 130.3 193.4 129.4 196.0C128.5 198.6 127.2 201.4 125.4 203.8C123.7 206.2 121.5 208.4 118.9 210.2C116.3 212.0 113.6 213.4 109.8 214.8C106.0 216.2 100.6 217.4 96.0 218.7C91.4 220.0 86.5 221.6 82.0 222.5C77.5 223.4 72.7 223.8 69.0 224.0C65.3 224.2 63.2 224.0 60.0 223.8C56.8 223.6 53.1 223.5 50.0 222.7C46.9 221.9 44.0 220.5 41.3 219.0C38.6 217.5 36.2 215.5 33.9 213.5C31.6 211.5 29.5 209.3 27.5 207.0C25.5 204.7 23.6 202.0 22.0 199.7C20.4 197.4 19.1 195.1 18.0 193.0C16.9 190.9 16.1 189.1 15.6 187.0C15.0 184.9 14.7 182.7 14.7 180.5Z" fill="#707070"/>
<g clip-path="url(#a2br)">
<path d="M14.7 180.5C14.7 178.3 15.0 176.1 15.6 174.0C16.1 171.9 16.9 170.1 18.0 168.0C19.1 165.9 20.4 163.6 22.0 161.3C23.6 159.0 25.5 156.3 27.5 154.0C29.5 151.7 31.6 149.5 33.9 147.5C36.2 145.5 38.6 143.5 41.3 142.0C44.0 140.5 46.9 139.1 50.0 138.3C53.1 137.5 56.8 137.4 60.0 137.2C63.2 137.0 65.3 136.8 69.0 137.0C72.7 137.2 77.5 137.6 82.0 138.5C86.5 139.4 91.4 141.0 96.0 142.3C100.6 143.6 106.0 144.8 109.8 146.2C113.6 147.6 116.3 149.0 118.9 150.8C121.5 152.6 123.7 154.8 125.4 157.2C127.2 159.6 128.5 162.4 129.4 165.0C130.3 167.6 130.5 170.4 130.8 173.0C131.1 175.6 131.0 178.0 131.0 180.5C131.0 183.0 131.1 185.4 130.8 188.0C130.5 190.6 130.3 193.4 129.4 196.0C128.5 198.6 127.2 201.4 125.4 203.8C123.7 206.2 121.5 208.4 118.9 210.2C116.3 212.0 113.6 213.4 109.8 214.8C106.0 216.2 100.6 217.4 96.0 218.7C91.4 220.0 86.5 221.6 82.0 222.5C77.5 223.4 72.7 223.8 69.0 224.0C65.3 224.2 63.2 224.0 60.0 223.8C56.8 223.6 53.1 223.5 50.0 222.7C46.9 221.9 44.0 220.5 41.3 219.0C38.6 217.5 36.2 215.5 33.9 213.5C31.6 211.5 29.5 209.3 27.5 207.0C25.5 204.7 23.6 202.0 22.0 199.7C20.4 197.4 19.1 195.1 18.0 193.0C16.9 190.9 16.1 189.1 15.6 187.0C15.0 184.9 14.7 182.7 14.7 180.5Z" fill="none" stroke="#626262" stroke-width="7"/>
<g filter="url(#wob)">
<path d="M14.7 180.5C14.7 178.3 15.0 176.1 15.6 174.0C16.1 171.9 16.9 170.1 18.0 168.0C19.1 165.9 20.4 163.6 22.0 161.3C23.6 159.0 25.5 156.3 27.5 154.0C29.5 151.7 31.6 149.5 33.9 147.5C36.2 145.5 38.6 143.5 41.3 142.0C44.0 140.5 46.9 139.1 50.0 138.3C53.1 137.5 56.8 137.4 60.0 137.2C63.2 137.0 65.3 136.8 69.0 137.0C72.7 137.2 77.5 137.6 82.0 138.5C86.5 139.4 91.4 141.0 96.0 142.3C100.6 143.6 106.0 144.8 109.8 146.2C113.6 147.6 116.3 149.0 118.9 150.8C121.5 152.6 123.7 154.8 125.4 157.2C127.2 159.6 128.5 162.4 129.4 165.0C130.3 167.6 130.5 170.4 130.8 173.0C131.1 175.6 131.0 178.0 131.0 180.5C131.0 183.0 131.1 185.4 130.8 188.0C130.5 190.6 130.3 193.4 129.4 196.0C128.5 198.6 127.2 201.4 125.4 203.8C123.7 206.2 121.5 208.4 118.9 210.2C116.3 212.0 113.6 213.4 109.8 214.8C106.0 216.2 100.6 217.4 96.0 218.7C91.4 220.0 86.5 221.6 82.0 222.5C77.5 223.4 72.7 223.8 69.0 224.0C65.3 224.2 63.2 224.0 60.0 223.8C56.8 223.6 53.1 223.5 50.0 222.7C46.9 221.9 44.0 220.5 41.3 219.0C38.6 217.5 36.2 215.5 33.9 213.5C31.6 211.5 29.5 209.3 27.5 207.0C25.5 204.7 23.6 202.0 22.0 199.7C20.4 197.4 19.1 195.1 18.0 193.0C16.9 190.9 16.1 189.1 15.6 187.0C15.0 184.9 14.7 182.7 14.7 180.5Z" fill="none" stroke="#2c2c2c" stroke-width="16" stroke-dasharray="2.8 4.1 2.4 5.9 3.0 3.0" stroke-dashoffset="2"/>
<path d="M14.7 180.5C14.7 178.3 15.0 176.1 15.6 174.0C16.1 171.9 16.9 170.1 18.0 168.0C19.1 165.9 20.4 163.6 22.0 161.3C23.6 159.0 25.5 156.3 27.5 154.0C29.5 151.7 31.6 149.5 33.9 147.5C36.2 145.5 38.6 143.5 41.3 142.0C44.0 140.5 46.9 139.1 50.0 138.3C53.1 137.5 56.8 137.4 60.0 137.2C63.2 137.0 65.3 136.8 69.0 137.0C72.7 137.2 77.5 137.6 82.0 138.5C86.5 139.4 91.4 141.0 96.0 142.3C100.6 143.6 106.0 144.8 109.8 146.2C113.6 147.6 116.3 149.0 118.9 150.8C121.5 152.6 123.7 154.8 125.4 157.2C127.2 159.6 128.5 162.4 129.4 165.0C130.3 167.6 130.5 170.4 130.8 173.0C131.1 175.6 131.0 178.0 131.0 180.5C131.0 183.0 131.1 185.4 130.8 188.0C130.5 190.6 130.3 193.4 129.4 196.0C128.5 198.6 127.2 201.4 125.4 203.8C123.7 206.2 121.5 208.4 118.9 210.2C116.3 212.0 113.6 213.4 109.8 214.8C106.0 216.2 100.6 217.4 96.0 218.7C91.4 220.0 86.5 221.6 82.0 222.5C77.5 223.4 72.7 223.8 69.0 224.0C65.3 224.2 63.2 224.0 60.0 223.8C56.8 223.6 53.1 223.5 50.0 222.7C46.9 221.9 44.0 220.5 41.3 219.0C38.6 217.5 36.2 215.5 33.9 213.5C31.6 211.5 29.5 209.3 27.5 207.0C25.5 204.7 23.6 202.0 22.0 199.7C20.4 197.4 19.1 195.1 18.0 193.0C16.9 190.9 16.1 189.1 15.6 187.0C15.0 184.9 14.7 182.7 14.7 180.5Z" fill="none" stroke="#303030" stroke-width="27" stroke-dasharray="2.7 10.0 2.9 7.6"/>
</g>
<path d="M14.7 180.5C14.7 178.3 15.0 176.1 15.6 174.0C16.1 171.9 16.9 170.1 18.0 168.0C19.1 165.9 20.4 163.6 22.0 161.3C23.6 159.0 25.5 156.3 27.5 154.0C29.5 151.7 31.6 149.5 33.9 147.5C36.2 145.5 38.6 143.5 41.3 142.0C44.0 140.5 46.9 139.1 50.0 138.3C53.1 137.5 56.8 137.4 60.0 137.2C63.2 137.0 65.3 136.8 69.0 137.0C72.7 137.2 77.5 137.6 82.0 138.5C86.5 139.4 91.4 141.0 96.0 142.3C100.6 143.6 106.0 144.8 109.8 146.2C113.6 147.6 116.3 149.0 118.9 150.8C121.5 152.6 123.7 154.8 125.4 157.2C127.2 159.6 128.5 162.4 129.4 165.0C130.3 167.6 130.5 170.4 130.8 173.0C131.1 175.6 131.0 178.0 131.0 180.5C131.0 183.0 131.1 185.4 130.8 188.0C130.5 190.6 130.3 193.4 129.4 196.0C128.5 198.6 127.2 201.4 125.4 203.8C123.7 206.2 121.5 208.4 118.9 210.2C116.3 212.0 113.6 213.4 109.8 214.8C106.0 216.2 100.6 217.4 96.0 218.7C91.4 220.0 86.5 221.6 82.0 222.5C77.5 223.4 72.7 223.8 69.0 224.0C65.3 224.2 63.2 224.0 60.0 223.8C56.8 223.6 53.1 223.5 50.0 222.7C46.9 221.9 44.0 220.5 41.3 219.0C38.6 217.5 36.2 215.5 33.9 213.5C31.6 211.5 29.5 209.3 27.5 207.0C25.5 204.7 23.6 202.0 22.0 199.7C20.4 197.4 19.1 195.1 18.0 193.0C16.9 190.9 16.1 189.1 15.6 187.0C15.0 184.9 14.7 182.7 14.7 180.5Z" fill="none" stroke="#2c2c2c" stroke-width="1.6"/>
<path d="M12 184.0L40 181.0M119 180.5H134" stroke="#333" stroke-width="1.4"/>
<path d="M66 180.5H85" stroke="#2a2a2a" stroke-width="1.1"/>
<path d="M70.0 156.5C71.3 156.0 75.0 154.5 78.0 153.5C81.0 152.5 84.8 151.7 88.0 150.5C91.2 149.3 95.5 147.2 97.0 146.5" fill="none" stroke="#444" stroke-width="1.8" filter="url(#wob)"/>
<path d="M78.0 153.5C78.3 152.5 79.0 149.2 80.0 147.5C81.0 145.8 83.3 144.2 84.0 143.5" fill="none" stroke="#3e3e3e" stroke-width="1.5" />
<path d="M88.0 150.5 L91.0 144.5" fill="none" stroke="#3e3e3e" stroke-width="1.5" />
<ellipse cx="76" cy="170.5" rx="13" ry="6.5" fill="#7a7a7a" transform="rotate(-16 76 170.5)"/>
<path d="M66.0 163.5C67.7 163.2 72.3 162.5 76.0 161.5C79.7 160.5 86.0 158.2 88.0 157.5" fill="none" stroke="#5c5c5c" stroke-width="1.3" />
<path d="M70.0 204.5C71.3 205.0 75.0 206.5 78.0 207.5C81.0 208.5 84.8 209.3 88.0 210.5C91.2 211.7 95.5 213.8 97.0 214.5" fill="none" stroke="#444" stroke-width="1.8" filter="url(#wob)"/>
<path d="M78.0 207.5C78.3 208.5 79.0 211.8 80.0 213.5C81.0 215.2 83.3 216.8 84.0 217.5" fill="none" stroke="#3e3e3e" stroke-width="1.5" />
<path d="M88.0 210.5 L91.0 216.5" fill="none" stroke="#3e3e3e" stroke-width="1.5" />
<ellipse cx="76" cy="190.5" rx="13" ry="6.5" fill="#7a7a7a" transform="rotate(16 76 190.5)"/>
<path d="M66.0 197.5C67.7 197.8 72.3 198.5 76.0 199.5C79.7 200.5 86.0 202.8 88.0 203.5" fill="none" stroke="#5c5c5c" stroke-width="1.3" />
<path d="M84.0 179.5C84.7 179.0 88.2 179.2 90.0 178.5C91.8 177.8 93.5 176.7 95.0 175.5C96.5 174.3 97.8 172.8 99.0 171.5C100.2 170.2 101.2 168.0 102.0 167.5C102.8 167.0 103.7 167.3 103.5 168.5C103.3 169.7 102.1 172.7 101.0 174.5C99.9 176.3 98.5 178.3 97.0 179.5C95.5 180.7 93.8 181.2 92.0 181.5C90.2 181.8 87.3 181.8 86.0 181.5C84.7 181.2 83.3 180.0 84.0 179.5Z" fill="#232323" stroke="none" stroke-width="1" />
<path d="M90.0 181.5C90.5 181.4 93.5 183.2 95.0 184.5C96.5 185.8 97.8 187.8 99.0 189.5C100.2 191.2 101.8 193.5 102.0 194.5C102.2 195.5 101.5 196.3 100.5 195.5C99.5 194.7 97.4 191.2 96.0 189.5C94.6 187.8 93.0 186.3 92.0 185.0C91.0 183.7 89.5 181.6 90.0 181.5Z" fill="#232323" stroke="none" stroke-width="1" />
<ellipse cx="86" cy="180.5" rx="3" ry="2.2" fill="#2e2e2e"/>
<path d="M44.0 161.5C43.7 160.6 47.8 158.5 50.0 158.0C52.2 157.5 55.2 157.6 57.0 158.5C58.8 159.4 60.2 161.5 61.0 163.5C61.8 165.5 62.0 168.7 61.5 170.5C61.0 172.3 58.9 174.8 58.0 174.5C57.1 174.2 57.0 170.3 56.0 168.5C55.0 166.7 54.0 164.7 52.0 163.5C50.0 162.3 44.3 162.4 44.0 161.5Z" fill="#2e2e2e" stroke="none" stroke-width="1" />
<path d="M44.0 199.5C43.7 200.4 47.8 202.5 50.0 203.0C52.2 203.5 55.2 203.4 57.0 202.5C58.8 201.6 60.2 199.5 61.0 197.5C61.8 195.5 62.0 192.3 61.5 190.5C61.0 188.7 58.9 186.2 58.0 186.5C57.1 186.8 57.0 190.7 56.0 192.5C55.0 194.3 54.0 196.3 52.0 197.5C50.0 198.7 44.3 198.6 44.0 199.5Z" fill="#2e2e2e" stroke="none" stroke-width="1" />
<path d="M40.0 181.0C40.0 179.6 43.0 177.5 45.0 176.5C47.0 175.5 49.5 175.1 52.0 175.0C54.5 174.9 57.3 175.1 60.0 176.0C62.7 176.9 68.0 179.0 68.0 180.5C68.0 182.0 62.7 184.1 60.0 185.0C57.3 185.9 54.5 186.0 52.0 186.0C49.5 186.0 47.0 185.8 45.0 185.0C43.0 184.2 40.0 182.4 40.0 181.0Z" fill="#353535" stroke="none" stroke-width="1" />
<rect x="48" y="177.5" width="9" height="6" fill="#5a5a5a"/>
<path d="M50.5 177.5v6M53 177.5v6M55.5 177.5v6" stroke="#2a2a2a" stroke-width="0.9"/>
<ellipse cx="112" cy="173.5" rx="2.2" ry="3" fill="#4a4a4a"/><ellipse cx="113" cy="188.5" rx="2.2" ry="3" fill="#4a4a4a"/>
</g>
</g></g></g>
<path d="M111.8 481.8H119.4V487.3H114.9V484.2H111.8Z" fill="#f3e62e"/>
<g stroke="#ababab" stroke-width="1" fill="none" shape-rendering="auto">
<path d="M339.5 13.3V203.7H622.5"/>
<path d="M335.3 203.7H339.5M335.3 176.5H339.5M335.3 149.3H339.5M335.3 122.1H339.5M335.3 94.9H339.5M335.3 67.7H339.5M335.3 40.5H339.5M335.3 13.3H339.5M339.5 203.7V207.9M396.1 203.7V207.9M452.7 203.7V207.9M509.3 203.7V207.9M565.9 203.7V207.9M622.5 203.7V207.9"/></g>
<g fill="#222" font-family="'Liberation Sans', sans-serif">
<text x="325.9" y="207.9" font-size="11.8" font-weight="normal" text-anchor="end" >0</text>
<text x="325.9" y="180.7" font-size="11.8" font-weight="normal" text-anchor="end" >1</text>
<text x="325.9" y="153.5" font-size="11.8" font-weight="normal" text-anchor="end" >2</text>
<text x="325.9" y="126.3" font-size="11.8" font-weight="normal" text-anchor="end" >3</text>
<text x="325.9" y="99.1" font-size="11.8" font-weight="normal" text-anchor="end" >4</text>
<text x="325.9" y="71.9" font-size="11.8" font-weight="normal" text-anchor="end" >5</text>
<text x="325.9" y="44.7" font-size="11.8" font-weight="normal" text-anchor="end" >6</text>
<text x="325.9" y="17.5" font-size="11.8" font-weight="normal" text-anchor="end" >7</text>
<text x="339.5" y="225.4" font-size="11.8" font-weight="normal" text-anchor="middle" textLength="6.5" lengthAdjust="spacingAndGlyphs" >0</text>
<text x="396.1" y="225.4" font-size="11.8" font-weight="normal" text-anchor="middle" textLength="12.9" lengthAdjust="spacingAndGlyphs" >20</text>
<text x="452.7" y="225.4" font-size="11.8" font-weight="normal" text-anchor="middle" textLength="12.9" lengthAdjust="spacingAndGlyphs" >40</text>
<text x="509.3" y="225.4" font-size="11.8" font-weight="normal" text-anchor="middle" textLength="12.9" lengthAdjust="spacingAndGlyphs" >60</text>
<text x="565.9" y="225.4" font-size="11.8" font-weight="normal" text-anchor="middle" textLength="12.9" lengthAdjust="spacingAndGlyphs" >80</text>
<text x="622.5" y="225.4" font-size="11.8" font-weight="normal" text-anchor="middle" textLength="19.4" lengthAdjust="spacingAndGlyphs" >100</text>
</g>
<line x1="461.2" y1="63.1" x2="568.7" y2="165.8" stroke="#444" stroke-width="0.85"/>
<line x1="475.3" y1="139.6" x2="563.2" y2="98.1" stroke="#444" stroke-width="0.85"/>
<circle cx="461.2" cy="47.0" r="3.95" fill="#78b3e1" fill-opacity="1" stroke="#111" stroke-width="1.3"/>
<circle cx="503.5" cy="77.0" r="3.95" fill="#78b3e1" fill-opacity="1" stroke="#111" stroke-width="1.3"/>
<circle cx="498.0" cy="88.5" r="3.95" fill="#78b3e1" fill-opacity="1" stroke="#111" stroke-width="1.3"/>
<circle cx="517.6" cy="87.2" r="3.95" fill="#78b3e1" fill-opacity="1" stroke="#111" stroke-width="1.3"/>
<circle cx="509.5" cy="97.3" r="3.95" fill="#78b3e1" fill-opacity="1" stroke="#111" stroke-width="1.3"/>
<circle cx="489.9" cy="103.8" r="3.95" fill="#78b3e1" fill-opacity="1" stroke="#111" stroke-width="1.3"/>
<circle cx="520.5" cy="111.4" r="3.95" fill="#78b3e1" fill-opacity="1" stroke="#111" stroke-width="1.3"/>
<circle cx="512.3" cy="139.6" r="3.95" fill="#78b3e1" fill-opacity="1" stroke="#111" stroke-width="1.3"/>
<circle cx="498.0" cy="147.8" r="3.95" fill="#78b3e1" fill-opacity="1" stroke="#111" stroke-width="1.3"/>
<circle cx="551.6" cy="142.3" r="3.95" fill="#78b3e1" fill-opacity="1" stroke="#111" stroke-width="1.3"/>
<circle cx="568.7" cy="156.2" r="3.95" fill="#78b3e1" fill-opacity="1" stroke="#111" stroke-width="1.3"/>
<circle cx="540.3" cy="167.2" r="3.95" fill="#78b3e1" fill-opacity="1" stroke="#111" stroke-width="1.3"/>
<circle cx="546.3" cy="39.8" r="3.95" fill="#fff" fill-opacity="0.12" stroke="#111" stroke-width="1.3"/>
<circle cx="481.1" cy="85.4" r="3.95" fill="#fff" fill-opacity="0.12" stroke="#111" stroke-width="1.3"/>
<circle cx="534.6" cy="97.9" r="3.95" fill="#fff" fill-opacity="0.12" stroke="#111" stroke-width="1.3"/>
<circle cx="546.3" cy="95.6" r="3.95" fill="#fff" fill-opacity="0.12" stroke="#111" stroke-width="1.3"/>
<circle cx="489.9" cy="101.1" r="3.95" fill="#fff" fill-opacity="0.12" stroke="#111" stroke-width="1.3"/>
<circle cx="506.8" cy="113.4" r="3.95" fill="#fff" fill-opacity="0.12" stroke="#111" stroke-width="1.3"/>
<circle cx="512.3" cy="117.3" r="3.95" fill="#fff" fill-opacity="0.12" stroke="#111" stroke-width="1.3"/>
<circle cx="512.3" cy="122.2" r="3.95" fill="#fff" fill-opacity="0.12" stroke="#111" stroke-width="1.3"/>
<circle cx="534.6" cy="118.1" r="3.95" fill="#fff" fill-opacity="0.12" stroke="#111" stroke-width="1.3"/>
<circle cx="534.6" cy="126.6" r="3.95" fill="#fff" fill-opacity="0.12" stroke="#111" stroke-width="1.3"/>
<circle cx="563.2" cy="115.4" r="3.95" fill="#fff" fill-opacity="0.12" stroke="#111" stroke-width="1.3"/>
<circle cx="563.2" cy="119.9" r="3.95" fill="#fff" fill-opacity="0.12" stroke="#111" stroke-width="1.3"/>
<circle cx="481.1" cy="126.0" r="3.95" fill="#fff" fill-opacity="0.12" stroke="#111" stroke-width="1.3"/>
<circle cx="489.9" cy="131.1" r="3.95" fill="#fff" fill-opacity="0.12" stroke="#111" stroke-width="1.3"/>
<circle cx="495.4" cy="132.3" r="3.95" fill="#fff" fill-opacity="0.12" stroke="#111" stroke-width="1.3"/>
<circle cx="498.4" cy="132.9" r="3.95" fill="#fff" fill-opacity="0.12" stroke="#111" stroke-width="1.3"/>
<circle cx="475.3" cy="138.4" r="3.95" fill="#fff" fill-opacity="0.12" stroke="#111" stroke-width="1.3"/>
<circle cx="512.3" cy="145.4" r="3.95" fill="#fff" fill-opacity="0.12" stroke="#111" stroke-width="1.3"/>
<circle cx="500.9" cy="145.4" r="3.95" fill="#fff" fill-opacity="0.12" stroke="#111" stroke-width="1.3"/>
<circle cx="489.9" cy="147.4" r="3.95" fill="#fff" fill-opacity="0.12" stroke="#111" stroke-width="1.3"/>
<circle cx="489.9" cy="154.2" r="3.95" fill="#fff" fill-opacity="0.12" stroke="#111" stroke-width="1.3"/>
<circle cx="498.0" cy="156.2" r="3.95" fill="#fff" fill-opacity="0.12" stroke="#111" stroke-width="1.3"/>
<circle cx="486.4" cy="159.3" r="3.95" fill="#fff" fill-opacity="0.12" stroke="#111" stroke-width="1.3"/>
<circle cx="495.4" cy="170.3" r="3.95" fill="#fff" fill-opacity="0.12" stroke="#111" stroke-width="1.3"/>
<g stroke="#ababab" stroke-width="1" fill="none" shape-rendering="auto">
<path d="M336.5 312.8V493.4H616.5"/>
<path d="M332.3 493.4H336.5M332.3 470.8H336.5M332.3 448.2H336.5M332.3 425.7H336.5M332.3 403.1H336.5M332.3 380.5H336.5M332.3 357.9H336.5M332.3 335.3H336.5M332.3 312.8H336.5M336.5 493.4V497.6M392.5 493.4V497.6M448.5 493.4V497.6M504.5 493.4V497.6M560.5 493.4V497.6M616.5 493.4V497.6"/></g>
<g fill="#222" font-family="'Liberation Sans', sans-serif">
<text x="324.7" y="497.5" font-size="11.5" font-weight="normal" text-anchor="end" >0</text>
<text x="324.7" y="474.9" font-size="11.5" font-weight="normal" text-anchor="end" >1</text>
<text x="324.7" y="452.3" font-size="11.5" font-weight="normal" text-anchor="end" >2</text>
<text x="324.7" y="429.8" font-size="11.5" font-weight="normal" text-anchor="end" >3</text>
<text x="324.7" y="407.2" font-size="11.5" font-weight="normal" text-anchor="end" >4</text>
<text x="324.7" y="384.6" font-size="11.5" font-weight="normal" text-anchor="end" >5</text>
<text x="324.7" y="362.0" font-size="11.5" font-weight="normal" text-anchor="end" >6</text>
<text x="324.7" y="339.4" font-size="11.5" font-weight="normal" text-anchor="end" >7</text>
<text x="324.7" y="316.9" font-size="11.5" font-weight="normal" text-anchor="end" >8</text>
<text x="336.5" y="515.2" font-size="11.5" font-weight="normal" text-anchor="middle" textLength="6.3" lengthAdjust="spacingAndGlyphs" >0</text>
<text x="392.5" y="515.2" font-size="11.5" font-weight="normal" text-anchor="middle" textLength="12.7" lengthAdjust="spacingAndGlyphs" >20</text>
<text x="448.5" y="515.2" font-size="11.5" font-weight="normal" text-anchor="middle" textLength="12.7" lengthAdjust="spacingAndGlyphs" >40</text>
<text x="504.5" y="515.2" font-size="11.5" font-weight="normal" text-anchor="middle" textLength="12.7" lengthAdjust="spacingAndGlyphs" >60</text>
<text x="560.5" y="515.2" font-size="11.5" font-weight="normal" text-anchor="middle" textLength="12.7" lengthAdjust="spacingAndGlyphs" >80</text>
<text x="616.5" y="515.2" font-size="11.5" font-weight="normal" text-anchor="middle" textLength="19.0" lengthAdjust="spacingAndGlyphs" >100</text>
</g>
<line x1="403.7" y1="386.0" x2="563.4" y2="425.4" stroke="#444" stroke-width="0.85"/>
<line x1="401.2" y1="420.3" x2="558.0" y2="397.1" stroke="#444" stroke-width="0.85"/>
<circle cx="457.0" cy="340.5" r="3.9" fill="#78b3e1" fill-opacity="1" stroke="#111" stroke-width="1.3"/>
<circle cx="499.3" cy="361.9" r="3.9" fill="#78b3e1" fill-opacity="1" stroke="#111" stroke-width="1.3"/>
<circle cx="415.3" cy="369.3" r="3.9" fill="#78b3e1" fill-opacity="1" stroke="#111" stroke-width="1.3"/>
<circle cx="423.3" cy="363.1" r="3.9" fill="#78b3e1" fill-opacity="1" stroke="#111" stroke-width="1.3"/>
<circle cx="426.4" cy="370.1" r="3.9" fill="#78b3e1" fill-opacity="1" stroke="#111" stroke-width="1.3"/>
<circle cx="476.7" cy="377.6" r="3.9" fill="#78b3e1" fill-opacity="1" stroke="#111" stroke-width="1.3"/>
<circle cx="485.2" cy="376.6" r="3.9" fill="#78b3e1" fill-opacity="1" stroke="#111" stroke-width="1.3"/>
<circle cx="512.8" cy="383.0" r="3.9" fill="#78b3e1" fill-opacity="1" stroke="#111" stroke-width="1.3"/>
<circle cx="426.4" cy="384.0" r="3.9" fill="#78b3e1" fill-opacity="1" stroke="#111" stroke-width="1.3"/>
<circle cx="437.4" cy="388.3" r="3.9" fill="#78b3e1" fill-opacity="1" stroke="#111" stroke-width="1.3"/>
<circle cx="493.2" cy="391.8" r="3.9" fill="#78b3e1" fill-opacity="1" stroke="#111" stroke-width="1.3"/>
<circle cx="516.1" cy="401.4" r="3.9" fill="#78b3e1" fill-opacity="1" stroke="#111" stroke-width="1.3"/>
<circle cx="504.9" cy="408.5" r="3.9" fill="#78b3e1" fill-opacity="1" stroke="#111" stroke-width="1.3"/>
<circle cx="420.7" cy="419.3" r="3.9" fill="#78b3e1" fill-opacity="1" stroke="#111" stroke-width="1.3"/>
<circle cx="403.7" cy="422.7" r="3.9" fill="#78b3e1" fill-opacity="1" stroke="#111" stroke-width="1.3"/>
<circle cx="409.4" cy="437.4" r="3.9" fill="#78b3e1" fill-opacity="1" stroke="#111" stroke-width="1.3"/>
<circle cx="493.6" cy="437.8" r="3.9" fill="#78b3e1" fill-opacity="1" stroke="#111" stroke-width="1.3"/>
<circle cx="507.5" cy="440.9" r="3.9" fill="#78b3e1" fill-opacity="1" stroke="#111" stroke-width="1.3"/>
<circle cx="482.4" cy="451.9" r="3.9" fill="#78b3e1" fill-opacity="1" stroke="#111" stroke-width="1.3"/>
<circle cx="502.0" cy="468.3" r="3.9" fill="#78b3e1" fill-opacity="1" stroke="#111" stroke-width="1.3"/>
<circle cx="546.6" cy="415.7" r="3.9" fill="#78b3e1" fill-opacity="1" stroke="#111" stroke-width="1.3"/>
<circle cx="535.8" cy="443.3" r="3.9" fill="#78b3e1" fill-opacity="1" stroke="#111" stroke-width="1.3"/>
<circle cx="563.4" cy="438.0" r="3.9" fill="#78b3e1" fill-opacity="1" stroke="#111" stroke-width="1.3"/>
<circle cx="482.4" cy="344.1" r="3.9" fill="#fff" fill-opacity="0.6" stroke="#111" stroke-width="1.3"/>
<circle cx="485.2" cy="361.5" r="3.9" fill="#fff" fill-opacity="0.6" stroke="#111" stroke-width="1.3"/>
<circle cx="528.9" cy="362.5" r="3.9" fill="#fff" fill-opacity="0.6" stroke="#111" stroke-width="1.3"/>
<circle cx="415.3" cy="365.6" r="3.9" fill="#fff" fill-opacity="0.6" stroke="#111" stroke-width="1.3"/>
<circle cx="437.4" cy="373.4" r="3.9" fill="#fff" fill-opacity="0.6" stroke="#111" stroke-width="1.3"/>
<circle cx="401.2" cy="377.4" r="3.9" fill="#fff" fill-opacity="0.6" stroke="#111" stroke-width="1.3"/>
<circle cx="468.3" cy="376.8" r="3.9" fill="#fff" fill-opacity="0.6" stroke="#111" stroke-width="1.3"/>
<circle cx="476.7" cy="379.3" r="3.9" fill="#fff" fill-opacity="0.6" stroke="#111" stroke-width="1.3"/>
<circle cx="485.2" cy="374.6" r="3.9" fill="#fff" fill-opacity="0.6" stroke="#111" stroke-width="1.3"/>
<circle cx="526.8" cy="376.9" r="3.9" fill="#fff" fill-opacity="0.6" stroke="#111" stroke-width="1.3"/>
<circle cx="418.0" cy="393.8" r="3.9" fill="#fff" fill-opacity="0.6" stroke="#111" stroke-width="1.3"/>
<circle cx="507.5" cy="391.8" r="3.9" fill="#fff" fill-opacity="0.6" stroke="#111" stroke-width="1.3"/>
<circle cx="507.5" cy="399.5" r="3.9" fill="#fff" fill-opacity="0.6" stroke="#111" stroke-width="1.3"/>
<circle cx="454.4" cy="404.0" r="3.9" fill="#fff" fill-opacity="0.6" stroke="#111" stroke-width="1.3"/>
<circle cx="457.0" cy="405.2" r="3.9" fill="#fff" fill-opacity="0.6" stroke="#111" stroke-width="1.3"/>
<circle cx="409.4" cy="409.0" r="3.9" fill="#fff" fill-opacity="0.6" stroke="#111" stroke-width="1.3"/>
<circle cx="428.8" cy="409.7" r="3.9" fill="#fff" fill-opacity="0.6" stroke="#111" stroke-width="1.3"/>
<circle cx="434.6" cy="408.9" r="3.9" fill="#fff" fill-opacity="0.6" stroke="#111" stroke-width="1.3"/>
<circle cx="502.0" cy="414.4" r="3.9" fill="#fff" fill-opacity="0.6" stroke="#111" stroke-width="1.3"/>
<circle cx="476.9" cy="416.2" r="3.9" fill="#fff" fill-opacity="0.6" stroke="#111" stroke-width="1.3"/>
<circle cx="471.3" cy="418.9" r="3.9" fill="#fff" fill-opacity="0.6" stroke="#111" stroke-width="1.3"/>
<circle cx="490.8" cy="419.5" r="3.9" fill="#fff" fill-opacity="0.6" stroke="#111" stroke-width="1.3"/>
<circle cx="529.3" cy="414.8" r="3.9" fill="#fff" fill-opacity="0.6" stroke="#111" stroke-width="1.3"/>
<circle cx="409.4" cy="417.8" r="3.9" fill="#fff" fill-opacity="0.6" stroke="#111" stroke-width="1.3"/>
<circle cx="429.0" cy="418.2" r="3.9" fill="#fff" fill-opacity="0.6" stroke="#111" stroke-width="1.3"/>
<circle cx="415.3" cy="424.9" r="3.9" fill="#fff" fill-opacity="0.6" stroke="#111" stroke-width="1.3"/>
<circle cx="460.1" cy="423.2" r="3.9" fill="#fff" fill-opacity="0.6" stroke="#111" stroke-width="1.3"/>
<circle cx="471.3" cy="426.2" r="3.9" fill="#fff" fill-opacity="0.6" stroke="#111" stroke-width="1.3"/>
<circle cx="465.6" cy="428.0" r="3.9" fill="#fff" fill-opacity="0.6" stroke="#111" stroke-width="1.3"/>
<circle cx="482.4" cy="422.7" r="3.9" fill="#fff" fill-opacity="0.6" stroke="#111" stroke-width="1.3"/>
<circle cx="485.2" cy="425.8" r="3.9" fill="#fff" fill-opacity="0.6" stroke="#111" stroke-width="1.3"/>
<circle cx="493.6" cy="427.2" r="3.9" fill="#fff" fill-opacity="0.6" stroke="#111" stroke-width="1.3"/>
<circle cx="507.5" cy="426.3" r="3.9" fill="#fff" fill-opacity="0.6" stroke="#111" stroke-width="1.3"/>
<circle cx="403.7" cy="442.2" r="3.9" fill="#fff" fill-opacity="0.6" stroke="#111" stroke-width="1.3"/>
<circle cx="406.8" cy="443.9" r="3.9" fill="#fff" fill-opacity="0.6" stroke="#111" stroke-width="1.3"/>
<circle cx="412.6" cy="446.6" r="3.9" fill="#fff" fill-opacity="0.6" stroke="#111" stroke-width="1.3"/>
<circle cx="482.4" cy="437.2" r="3.9" fill="#fff" fill-opacity="0.6" stroke="#111" stroke-width="1.3"/>
<circle cx="485.2" cy="436.2" r="3.9" fill="#fff" fill-opacity="0.6" stroke="#111" stroke-width="1.3"/>
<circle cx="496.3" cy="437.4" r="3.9" fill="#fff" fill-opacity="0.6" stroke="#111" stroke-width="1.3"/>
<circle cx="485.2" cy="453.1" r="3.9" fill="#fff" fill-opacity="0.6" stroke="#111" stroke-width="1.3"/>
<circle cx="493.6" cy="450.1" r="3.9" fill="#fff" fill-opacity="0.6" stroke="#111" stroke-width="1.3"/>
<circle cx="434.6" cy="459.1" r="3.9" fill="#fff" fill-opacity="0.6" stroke="#111" stroke-width="1.3"/>
<circle cx="490.8" cy="462.3" r="3.9" fill="#fff" fill-opacity="0.6" stroke="#111" stroke-width="1.3"/>
<circle cx="541.1" cy="325.1" r="3.9" fill="#fff" fill-opacity="0.6" stroke="#111" stroke-width="1.3"/>
<circle cx="541.1" cy="399.7" r="3.9" fill="#fff" fill-opacity="0.6" stroke="#111" stroke-width="1.3"/>
<circle cx="558.0" cy="395.8" r="3.9" fill="#fff" fill-opacity="0.6" stroke="#111" stroke-width="1.3"/>
<circle cx="558.0" cy="398.3" r="3.9" fill="#fff" fill-opacity="0.6" stroke="#111" stroke-width="1.3"/>
<g fill="#1a1a1a" font-family="'Liberation Sans', sans-serif">
<text x="352.7" y="31.9" font-size="13" font-weight="bold" text-anchor="start" textLength="77.5" lengthAdjust="spacingAndGlyphs" >MDD Group</text>
<text x="391.3" y="248.3" font-size="13.4" font-weight="bold" text-anchor="start" textLength="179.0" lengthAdjust="spacingAndGlyphs" >Ruminative Response Scale</text>
<text x="389.5" y="540.5" font-size="13.2" font-weight="bold" text-anchor="start" textLength="176.6" lengthAdjust="spacingAndGlyphs" >Ruminative Response Scale</text>
<g transform="translate(312.8 194.4) rotate(-90)"><text x="0.0" y="0.0" font-size="14.2" font-weight="bold" text-anchor="start" textLength="172.5" lengthAdjust="spacingAndGlyphs" >Intranetwork connectivity</text></g>
<g transform="translate(309.8 487.6) rotate(-90)"><text x="0.0" y="0.0" font-size="13.9" font-weight="bold" text-anchor="start" textLength="169.3" lengthAdjust="spacingAndGlyphs" >Intranetwork connectivity</text></g>
<text x="594.3" y="61.4" font-size="12.4" font-weight="normal" text-anchor="start" textLength="55.7" lengthAdjust="spacingAndGlyphs" >R² = 0.215</text>
<text x="577.9" y="196.3" font-size="12.4" font-weight="normal" text-anchor="start" textLength="62.8" lengthAdjust="spacingAndGlyphs" >R² = 0.5612</text>
<text x="577.3" y="390.7" font-size="12" font-weight="normal" text-anchor="start" textLength="62.5" lengthAdjust="spacingAndGlyphs" >R² = 0.0486</text>
<text x="589.0" y="450.6" font-size="12" font-weight="normal" text-anchor="start" textLength="62.4" lengthAdjust="spacingAndGlyphs" >R² = 0.1113</text>
<text x="660.9" y="226.9" font-size="12.2" font-weight="normal" text-anchor="start" textLength="21.8" lengthAdjust="spacingAndGlyphs" >Plac</text>
<text x="660.9" y="244.6" font-size="12.2" font-weight="normal" text-anchor="start" textLength="24.0" lengthAdjust="spacingAndGlyphs" >Cital</text>
<text x="650.3" y="507.9" font-size="11.6" font-weight="normal" text-anchor="start" textLength="21.6" lengthAdjust="spacingAndGlyphs" >Plac</text>
<text x="650.3" y="526.5" font-size="11.6" font-weight="normal" text-anchor="start" textLength="23.3" lengthAdjust="spacingAndGlyphs" >Cital</text>
</g>
<circle cx="653.6" cy="223.3" r="3.8" fill="#78b3e1" stroke="#666" stroke-width="0.9"/>
<circle cx="653.6" cy="241.3" r="3.8" fill="#fff" stroke="#444" stroke-width="0.9"/>
<circle cx="642.6" cy="504.2" r="3.5" fill="#78b3e1" stroke="#666" stroke-width="0.9"/>
<circle cx="642.6" cy="523.0" r="3.5" fill="#fff" stroke="#444" stroke-width="0.9"/>
<g fill="#000" font-family="'Liberation Sans', sans-serif" font-weight="bold" font-size="17.3" text-anchor="middle">
<text x="201.9" y="164.6">Anterior</text>
<text x="201.9" y="185.0">Cingulate</text>
<text x="201.9" y="205.8">Cortex</text>
<text x="207.2" y="467.8">Anterior</text>
<text x="207.2" y="488.2">Cingulate</text>
<text x="207.2" y="509.1">Cortex</text>
</g>
</svg></body></html>
